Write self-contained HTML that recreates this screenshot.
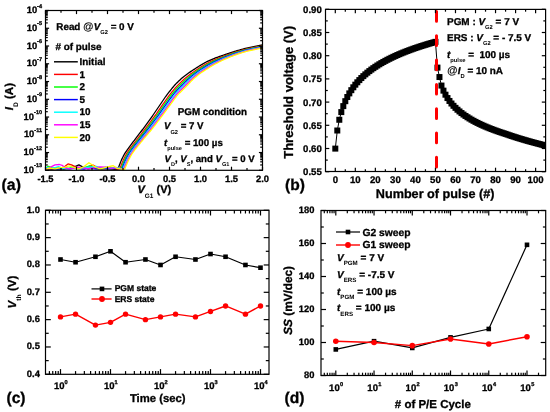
<!DOCTYPE html>
<html><head><meta charset="utf-8"><style>
html,body{margin:0;padding:0;background:#fff;}
svg{display:block;will-change:transform;}
text{font-family:"Liberation Sans", sans-serif;text-rendering:geometricPrecision;stroke:#000;stroke-width:0.3px;}
</style></head><body>
<svg width="550" height="412" viewBox="0 0 550 412">
<rect width="550" height="412" fill="#fff"/>
<clipPath id="ca"><rect x="45.5" y="10.5" width="217.0" height="159.8"/></clipPath><g clip-path="url(#ca)">
<polyline points="46.00,168.80 52.00,169.10 58.00,168.60 64.00,169.10 70.00,168.30 74.50,166.80 78.90,164.90 83.00,167.10 88.00,168.80 94.00,168.30 100.00,169.10 106.00,168.50 112.00,169.10 117.80,169.50 118.24,168.34 118.67,167.18 119.11,166.01 119.55,164.85 119.99,163.69 120.42,162.52 120.88,161.37 121.36,160.24 121.86,159.12 122.39,158.01 122.94,156.92 123.49,155.82 124.07,154.74 124.69,153.67 125.35,152.62 126.03,151.57 126.73,150.54 127.44,149.51 128.16,148.51 128.88,147.52 129.61,146.55 130.34,145.58 131.07,144.62 131.79,143.65 132.52,142.69 133.24,141.73 133.97,140.77 134.69,139.80 135.42,138.84 136.16,137.86 136.91,136.89 137.66,135.91 138.42,134.92 139.17,133.94 139.93,132.96 140.68,131.98 141.44,130.99 142.19,130.01 142.94,129.02 143.68,128.03 144.41,127.03 145.13,126.03 145.86,125.03 146.58,124.03 147.31,123.03 148.03,122.03 148.76,121.03 149.48,120.03 150.21,119.02 150.93,118.02 151.65,117.01 152.37,116.01 153.08,115.00 153.77,114.00 154.46,113.00 155.14,112.00 155.82,111.00 156.50,110.00 157.18,109.00 157.86,108.00 158.54,107.00 159.22,106.00 159.90,105.00 160.58,104.00 161.26,103.00 161.94,102.00 162.62,101.00 163.30,100.00 163.98,99.00 164.66,98.00 165.34,97.00 166.03,96.01 166.74,95.03 167.47,94.07 168.21,93.13 168.96,92.19 169.72,91.25 170.47,90.32 171.23,89.38 171.98,88.45 172.74,87.51 173.49,86.57 174.26,85.65 175.07,84.75 175.89,83.87 176.75,83.02 177.63,82.18 178.50,81.34 179.38,80.50 180.26,79.66 181.14,78.83 182.05,78.02 182.99,77.24 183.96,76.48 184.95,75.74 185.95,75.00 186.95,74.26 187.94,73.53 188.94,72.81 189.96,72.10 190.97,71.41 192.00,70.73 193.03,70.06 194.06,69.39 195.09,68.72 196.12,68.05 197.17,67.38 198.23,66.71 199.29,66.05 200.36,65.39 201.43,64.74 202.50,64.10 203.58,63.46 204.67,62.85 205.79,62.25 206.93,61.68 208.08,61.12 209.23,60.59 210.38,60.07 211.54,59.56 212.69,59.07 213.85,58.60 215.00,58.14 216.15,57.70 217.31,57.27 218.46,56.86 219.62,56.45 220.77,56.04 221.92,55.65 223.08,55.25 224.23,54.86 225.38,54.48 226.54,54.09 227.69,53.71 228.85,53.33 230.00,52.95 231.15,52.57 232.31,52.19 233.47,51.81 234.63,51.44 235.81,51.09 237.00,50.74 238.20,50.40 239.40,50.07 240.60,49.73 241.80,49.40 243.00,49.06 244.20,48.74 245.40,48.44 246.60,48.15 247.80,47.88 249.00,47.62 250.20,47.36 251.40,47.09 252.60,46.83 253.80,46.57 255.01,46.32 256.22,46.08 257.43,45.84 258.64,45.61 259.86,45.39 261.07,45.16 262.29,44.93 263.50,44.70 263.50,44.70" fill="none" stroke="#000" stroke-width="1.3" stroke-linejoin="round" />
<polyline points="46.00,168.30 51.00,168.80 56.00,167.80 61.00,168.50 65.00,166.30 68.00,163.90 71.50,164.80 75.30,166.60 80.00,168.10 86.00,167.50 93.00,165.10 98.00,167.80 104.00,168.60 110.00,167.80 116.00,168.80 119.54,169.50 119.87,168.64 120.19,167.78 120.64,166.63 121.09,165.48 121.54,164.33 121.98,163.18 122.44,162.04 122.92,160.90 123.42,159.79 123.91,158.78 124.45,157.68 125.00,156.58 125.58,155.50 126.19,154.42 126.77,153.45 127.44,152.40 128.13,151.36 128.77,150.43 129.47,149.43 130.20,148.44 130.92,147.47 131.59,146.59 132.32,145.63 133.05,144.67 133.78,143.71 134.52,142.76 135.26,141.80 135.99,140.85 136.73,139.89 137.48,138.92 138.23,137.96 138.99,136.99 139.75,136.02 140.51,135.05 141.27,134.08 142.03,133.12 142.79,132.15 143.54,131.18 144.30,130.21 145.05,129.24 145.79,128.26 146.59,127.20 147.33,126.22 148.06,125.24 148.79,124.26 149.59,123.19 150.31,122.20 151.04,121.21 151.77,120.21 152.49,119.22 153.22,118.23 153.94,117.24 154.65,116.24 155.36,115.25 156.06,114.27 156.75,113.28 157.51,112.20 158.20,111.21 158.89,110.21 159.58,109.21 160.27,108.21 160.96,107.21 161.65,106.21 162.34,105.21 163.03,104.21 163.66,103.30 164.35,102.30 165.04,101.30 165.73,100.31 166.43,99.32 167.12,98.33 167.82,97.34 168.53,96.37 169.26,95.40 170.00,94.45 170.74,93.51 171.43,92.65 172.18,91.71 172.88,90.86 173.65,89.93 174.35,89.09 175.06,88.25 175.86,87.35 176.68,86.46 177.52,85.59 178.38,84.74 179.25,83.90 180.20,82.98 181.07,82.13 181.94,81.28 182.82,80.43 183.71,79.60 184.63,78.79 185.56,77.99 186.51,77.21 187.47,76.43 188.36,75.73 189.33,74.97 190.23,74.29 191.22,73.56 192.14,72.91 193.15,72.20 194.17,71.50 195.18,70.80 196.20,70.10 197.15,69.48 198.19,68.79 199.15,68.17 200.22,67.50 201.29,66.83 202.36,66.17 203.43,65.51 204.50,64.86 205.59,64.23 206.61,63.67 207.72,63.07 208.86,62.49 209.99,61.93 211.12,61.38 212.25,60.85 213.39,60.34 214.52,59.83 215.65,59.35 216.78,58.88 217.92,58.42 219.07,57.97 220.12,57.57 221.27,57.13 222.42,56.69 223.57,56.27 224.62,55.89 225.77,55.48 226.91,55.08 228.05,54.68 229.19,54.28 230.34,53.88 231.48,53.48 232.62,53.08 233.77,52.69 234.93,52.31 236.10,51.94 237.28,51.58 238.47,51.24 239.66,50.89 240.84,50.54 242.03,50.19 243.22,49.85 244.41,49.53 245.61,49.22 246.81,48.93 248.01,48.66 249.21,48.39 250.41,48.13 251.61,47.86 252.81,47.59 254.01,47.34 255.11,47.11 256.32,46.87 257.53,46.64 258.75,46.41 259.96,46.19 261.18,45.96 262.39,45.74 263.50,45.53 263.50,45.53" fill="none" stroke="#f00" stroke-width="1.3" stroke-linejoin="round" />
<polyline points="46.00,167.80 48.40,166.30 52.00,167.90 57.00,168.80 63.00,167.50 68.00,168.50 73.00,167.30 78.00,168.60 84.00,167.80 89.50,165.80 94.00,167.50 100.00,168.60 106.00,167.30 112.00,168.50 118.00,167.80 120.61,169.50 120.87,168.83 121.12,168.15 121.58,167.01 122.03,165.87 122.49,164.72 122.94,163.58 123.41,162.44 123.89,161.32 124.39,160.20 124.84,159.25 125.37,158.15 125.92,157.05 126.50,155.96 127.11,154.88 127.65,153.97 128.31,152.91 128.98,151.87 129.58,151.00 130.29,149.99 131.00,149.01 131.73,148.04 132.35,147.21 133.09,146.25 133.82,145.29 134.56,144.34 135.31,143.39 136.05,142.44 136.79,141.49 137.54,140.53 138.29,139.58 139.05,138.62 139.81,137.66 140.57,136.69 141.33,135.73 142.09,134.77 142.85,133.82 143.62,132.86 144.38,131.90 145.14,130.95 145.89,129.98 146.64,129.02 147.49,127.93 148.24,126.96 148.97,125.99 149.71,125.01 150.54,123.90 151.27,122.91 152.00,121.93 152.73,120.95 153.45,119.96 154.18,118.98 154.90,117.99 155.62,117.01 156.33,116.03 157.04,115.04 157.74,114.06 158.55,112.94 159.24,111.95 159.94,110.96 160.64,109.96 161.34,108.96 162.03,107.96 162.73,106.96 163.43,105.96 164.12,104.96 164.72,104.10 165.42,103.10 166.12,102.11 166.81,101.12 167.51,100.13 168.21,99.14 168.92,98.16 169.63,97.19 170.36,96.22 171.10,95.27 171.84,94.32 172.48,93.51 173.24,92.57 173.89,91.77 174.67,90.85 175.35,90.06 176.03,89.28 176.84,88.39 177.67,87.51 178.52,86.65 179.38,85.80 180.25,84.95 181.24,83.99 182.11,83.13 182.98,82.28 183.85,81.42 184.73,80.57 185.63,79.74 186.54,78.92 187.47,78.12 188.41,77.31 189.23,76.64 190.18,75.85 191.02,75.20 192.00,74.45 192.86,73.83 193.86,73.11 194.87,72.39 195.87,71.67 196.89,70.96 197.77,70.36 198.82,69.66 199.72,69.07 200.79,68.39 201.86,67.71 202.93,67.04 204.00,66.38 205.08,65.72 206.16,65.07 207.11,64.54 208.22,63.93 209.33,63.34 210.45,62.76 211.57,62.20 212.69,61.65 213.81,61.11 214.93,60.60 216.05,60.10 217.17,59.61 218.30,59.12 219.44,58.65 220.43,58.26 221.58,57.79 222.73,57.34 223.87,56.89 224.86,56.53 226.00,56.10 227.14,55.69 228.27,55.27 229.41,54.86 230.54,54.45 231.68,54.04 232.82,53.63 233.96,53.23 235.11,52.84 236.28,52.47 237.45,52.10 238.63,51.75 239.81,51.39 240.99,51.04 242.17,50.68 243.36,50.34 244.55,50.01 245.74,49.70 246.94,49.41 248.14,49.14 249.34,48.87 250.54,48.60 251.74,48.33 252.94,48.06 254.14,47.81 255.18,47.59 256.39,47.35 257.60,47.13 258.81,46.90 260.03,46.68 261.24,46.46 262.46,46.24 263.50,46.04 263.50,46.04" fill="none" stroke="#0f0" stroke-width="1.3" stroke-linejoin="round" />
<polyline points="46.00,168.80 52.00,168.30 58.00,169.10 64.00,168.10 70.00,168.90 76.00,167.80 79.00,168.60 84.00,169.10 90.00,167.90 96.00,168.80 102.00,167.90 108.00,168.80 114.00,168.10 120.00,168.80 121.69,169.50 121.87,169.01 122.05,168.52 122.52,167.39 122.98,166.25 123.44,165.12 123.90,163.98 124.37,162.85 124.85,161.73 125.35,160.61 125.77,159.72 126.30,158.61 126.85,157.52 127.43,156.43 128.03,155.34 128.53,154.48 129.17,153.42 129.84,152.38 130.39,151.56 131.10,150.56 131.81,149.58 132.54,148.61 133.12,147.83 133.86,146.87 134.60,145.92 135.34,144.97 136.09,144.02 136.84,143.08 137.59,142.13 138.35,141.18 139.10,140.23 139.86,139.28 140.62,138.32 141.38,137.37 142.15,136.42 142.91,135.47 143.68,134.52 144.45,133.57 145.21,132.63 145.97,131.68 146.73,130.73 147.49,129.78 148.39,128.65 149.14,127.69 149.89,126.73 150.62,125.76 151.50,124.61 152.23,123.63 152.96,122.66 153.69,121.68 154.42,120.70 155.14,119.73 155.87,118.75 156.59,117.77 157.31,116.80 158.02,115.82 158.73,114.85 159.58,113.68 160.29,112.70 161.00,111.70 161.70,110.71 162.40,109.71 163.11,108.71 163.81,107.71 164.51,106.71 165.22,105.71 165.78,104.90 166.48,103.90 167.19,102.91 167.89,101.92 168.60,100.94 169.31,99.96 170.02,98.98 170.74,98.01 171.46,97.04 172.19,96.08 172.93,95.13 173.53,94.36 174.29,93.43 174.91,92.68 175.70,91.77 176.34,91.04 176.99,90.31 177.82,89.43 178.66,88.56 179.51,87.70 180.38,86.85 181.25,86.01 182.29,84.99 183.15,84.14 184.02,83.27 184.88,82.41 185.75,81.55 186.63,80.69 187.53,79.85 188.43,79.02 189.34,78.19 190.10,77.54 191.03,76.74 191.81,76.11 192.78,75.34 193.58,74.75 194.57,74.01 195.57,73.27 196.57,72.53 197.58,71.81 198.40,71.24 199.44,70.53 200.29,69.97 201.36,69.28 202.43,68.59 203.50,67.92 204.57,67.24 205.65,66.58 206.73,65.92 207.61,65.41 208.71,64.79 209.81,64.18 210.92,63.59 212.03,63.01 213.13,62.44 214.24,61.89 215.34,61.36 216.45,60.84 217.56,60.33 218.68,59.83 219.81,59.34 220.73,58.95 221.88,58.46 223.03,57.98 224.18,57.52 225.10,57.16 226.23,56.72 227.36,56.29 228.49,55.87 229.62,55.44 230.75,55.02 231.88,54.60 233.01,54.17 234.15,53.77 235.30,53.37 236.46,52.99 237.63,52.62 238.80,52.26 239.97,51.90 241.14,51.54 242.32,51.17 243.49,50.82 244.68,50.49 245.87,50.18 247.06,49.89 248.26,49.62 249.46,49.35 250.66,49.08 251.86,48.80 253.06,48.54 254.27,48.28 255.24,48.08 256.45,47.84 257.66,47.62 258.88,47.40 260.09,47.18 261.31,46.96 262.52,46.73 263.50,46.56 263.50,46.56" fill="none" stroke="#00f" stroke-width="1.3" stroke-linejoin="round" />
<polyline points="46.00,167.50 50.00,168.30 55.00,167.60 58.50,166.50 62.00,168.10 67.00,168.80 72.00,167.90 77.00,167.30 82.00,168.10 87.00,167.50 92.00,166.80 97.00,166.50 101.00,167.80 106.00,167.30 111.00,168.10 116.00,167.50 121.00,168.60 122.69,169.50 122.81,169.19 122.93,168.87 123.40,167.74 123.86,166.62 124.33,165.49 124.80,164.36 125.27,163.23 125.75,162.11 126.25,160.99 126.64,160.16 127.17,159.05 127.72,157.96 128.30,156.86 128.89,155.78 129.35,154.96 129.98,153.90 130.64,152.86 131.16,152.09 131.86,151.09 132.57,150.11 133.29,149.14 133.84,148.41 134.58,147.45 135.32,146.50 136.08,145.56 136.83,144.61 137.59,143.67 138.34,142.73 139.10,141.79 139.86,140.84 140.62,139.89 141.39,138.95 142.15,138.00 142.92,137.06 143.69,136.12 144.45,135.18 145.22,134.24 145.99,133.30 146.76,132.37 147.52,131.43 148.29,130.49 149.23,129.32 149.99,128.38 150.74,127.43 151.48,126.47 152.40,125.27 153.13,124.30 153.86,123.33 154.59,122.37 155.32,121.40 156.05,120.43 156.78,119.46 157.50,118.49 158.22,117.52 158.94,116.55 159.66,115.59 160.56,114.38 161.27,113.39 161.98,112.40 162.69,111.41 163.40,110.41 164.11,109.41 164.82,108.41 165.53,107.41 166.24,106.41 166.77,105.65 167.48,104.65 168.19,103.66 168.91,102.68 169.62,101.70 170.33,100.72 171.05,99.75 171.77,98.78 172.49,97.81 173.23,96.85 173.96,95.89 174.52,95.17 175.28,94.23 175.86,93.53 176.66,92.62 177.27,91.95 177.90,91.28 178.74,90.41 179.59,89.55 180.45,88.69 181.32,87.84 182.19,87.00 183.27,85.94 184.13,85.08 184.99,84.21 185.84,83.33 186.71,82.46 187.57,81.59 188.45,80.73 189.33,79.87 190.22,79.02 190.91,78.39 191.83,77.57 192.55,76.97 193.51,76.18 194.25,75.61 195.24,74.86 196.23,74.10 197.22,73.35 198.22,72.61 198.99,72.06 200.03,71.34 200.83,70.81 201.89,70.11 202.96,69.42 204.04,68.74 205.11,68.05 206.18,67.38 207.26,66.71 208.08,66.23 209.17,65.59 210.26,64.97 211.36,64.36 212.45,63.77 213.54,63.19 214.64,62.62 215.73,62.08 216.83,61.54 217.92,61.02 219.04,60.49 220.16,59.98 221.02,59.60 222.17,59.08 223.32,58.58 224.46,58.10 225.33,57.75 226.45,57.30 227.58,56.86 228.70,56.43 229.82,55.99 230.95,55.56 232.07,55.12 233.19,54.69 234.33,54.27 235.47,53.87 236.62,53.48 237.79,53.11 238.95,52.74 240.12,52.37 241.29,52.00 242.45,51.63 243.62,51.28 244.80,50.94 245.99,50.63 247.18,50.34 248.38,50.07 249.58,49.79 250.78,49.52 251.98,49.25 253.18,48.98 254.39,48.72 255.30,48.53 256.51,48.30 257.72,48.07 258.94,47.86 260.15,47.64 261.37,47.42 262.58,47.20 263.50,47.04 263.50,47.04" fill="none" stroke="#0ff" stroke-width="1.3" stroke-linejoin="round" />
<polyline points="46.00,168.80 49.00,168.10 52.00,166.30 55.00,164.90 59.50,164.50 62.20,165.30 65.00,167.80 69.00,168.80 74.00,168.10 79.00,167.10 83.00,167.90 88.00,168.60 94.00,167.80 100.00,166.90 106.00,167.20 111.00,168.30 116.00,167.60 120.00,168.80 123.56,169.50 123.62,169.34 123.68,169.17 124.16,168.05 124.63,166.93 125.11,165.81 125.58,164.68 126.06,163.56 126.54,162.44 127.03,161.33 127.39,160.54 127.92,159.43 128.47,158.33 129.05,157.24 129.64,156.15 130.06,155.38 130.69,154.31 131.34,153.27 131.82,152.55 132.52,151.55 133.23,150.58 133.95,149.60 134.47,148.92 135.20,147.96 135.95,147.01 136.71,146.07 137.47,145.13 138.23,144.19 138.99,143.25 139.76,142.31 140.52,141.37 141.28,140.43 142.05,139.49 142.82,138.55 143.59,137.61 144.35,136.68 145.13,135.75 145.90,134.82 146.67,133.89 147.44,132.96 148.21,132.03 148.98,131.10 149.97,129.91 150.73,128.97 151.48,128.03 152.23,127.08 153.17,125.85 153.90,124.89 154.64,123.92 155.37,122.96 156.10,122.00 156.83,121.04 157.56,120.07 158.29,119.11 159.02,118.15 159.74,117.19 160.47,116.22 161.40,114.98 162.12,114.00 162.84,113.01 163.55,112.01 164.27,111.01 164.98,110.01 165.70,109.01 166.41,108.01 167.13,107.01 167.63,106.30 168.35,105.30 169.06,104.31 169.78,103.33 170.50,102.36 171.22,101.38 171.94,100.41 172.66,99.44 173.39,98.48 174.12,97.51 174.85,96.55 175.37,95.87 176.13,94.93 176.69,94.27 177.49,93.37 178.08,92.74 178.68,92.12 179.54,91.26 180.40,90.40 181.26,89.55 182.13,88.70 183.00,87.86 184.11,86.76 184.97,85.89 185.83,85.02 186.68,84.14 187.53,83.25 188.39,82.36 189.25,81.48 190.11,80.61 190.98,79.73 191.62,79.13 192.52,78.29 193.19,77.71 194.14,76.91 194.84,76.36 195.82,75.59 196.80,74.82 197.78,74.05 198.78,73.30 199.50,72.77 200.54,72.05 201.29,71.54 202.36,70.84 203.43,70.14 204.50,69.45 205.57,68.76 206.64,68.08 207.72,67.40 208.49,66.93 209.57,66.28 210.65,65.65 211.74,65.03 212.82,64.43 213.90,63.83 214.98,63.26 216.07,62.69 217.15,62.15 218.24,61.61 219.34,61.07 220.46,60.53 221.27,60.16 222.42,59.62 223.57,59.11 224.71,58.61 225.52,58.27 226.65,57.80 227.76,57.35 228.88,56.91 230.00,56.46 231.11,56.02 232.23,55.57 233.35,55.13 234.48,54.71 235.62,54.30 236.77,53.91 237.93,53.53 239.09,53.16 240.25,52.78 241.41,52.41 242.57,52.03 243.73,51.67 244.91,51.33 246.09,51.02 247.29,50.73 248.49,50.45 249.69,50.18 250.89,49.91 252.09,49.63 253.29,49.36 254.49,49.10 255.35,48.93 256.56,48.69 257.78,48.47 258.99,48.26 260.21,48.04 261.42,47.82 262.63,47.61 263.50,47.45 263.50,47.45" fill="none" stroke="#f0f" stroke-width="1.3" stroke-linejoin="round" />
<polyline points="46.00,169.10 50.00,168.10 55.00,168.90 60.00,167.80 65.00,167.10 69.50,165.80 74.00,167.50 79.00,168.80 84.00,166.50 88.90,162.70 92.00,164.80 96.00,167.50 100.00,168.80 105.00,167.60 109.50,166.50 113.30,165.70 117.00,168.30 120.00,168.90 124.50,169.50 124.50,169.50 124.50,169.50 124.98,168.38 125.46,167.27 125.94,166.15 126.42,165.04 126.90,163.92 127.38,162.80 127.87,161.69 128.21,160.95 128.73,159.84 129.28,158.74 129.86,157.65 130.44,156.55 130.83,155.83 131.45,154.76 132.09,153.72 132.53,153.04 133.23,152.05 133.94,151.08 134.65,150.10 135.14,149.46 135.88,148.50 136.63,147.56 137.39,146.62 138.16,145.68 138.93,144.75 139.69,143.81 140.46,142.88 141.23,141.94 142.00,141.01 142.76,140.07 143.53,139.14 144.30,138.21 145.08,137.28 145.85,136.36 146.62,135.44 147.40,134.52 148.17,133.60 148.95,132.68 149.72,131.76 150.75,130.54 151.52,129.61 152.28,128.68 153.03,127.74 154.01,126.47 154.74,125.51 155.47,124.56 156.21,123.60 156.94,122.65 157.67,121.69 158.40,120.73 159.14,119.78 159.87,118.82 160.60,117.87 161.33,116.91 162.31,115.63 163.04,114.65 163.76,113.66 164.48,112.67 165.20,111.67 165.92,110.67 166.64,109.67 167.36,108.67 168.08,107.67 168.56,107.00 169.28,106.00 170.00,105.02 170.73,104.04 171.45,103.06 172.18,102.10 172.90,101.13 173.63,100.16 174.35,99.19 175.08,98.23 175.81,97.26 176.29,96.62 177.05,95.68 177.58,95.06 178.39,94.17 178.95,93.59 179.53,93.02 180.40,92.17 181.27,91.32 182.13,90.48 183.00,89.63 183.87,88.78 185.03,87.64 185.89,86.77 186.74,85.89 187.58,85.00 188.43,84.10 189.27,83.20 190.11,82.30 190.95,81.40 191.80,80.50 192.38,79.92 193.27,79.06 193.88,78.51 194.82,77.69 195.47,77.17 196.44,76.38 197.41,75.60 198.38,74.81 199.38,74.04 200.05,73.54 201.09,72.80 201.79,72.32 202.86,71.61 203.93,70.91 205.00,70.21 206.07,69.52 207.14,68.83 208.21,68.14 208.93,67.70 210.00,67.03 211.07,66.39 212.14,65.76 213.21,65.14 214.29,64.53 215.36,63.94 216.43,63.36 217.50,62.80 218.58,62.24 219.67,61.69 220.79,61.13 221.54,60.76 222.69,60.21 223.84,59.67 224.98,59.15 225.73,58.82 226.85,58.34 227.96,57.89 229.07,57.43 230.19,56.97 231.30,56.52 232.41,56.06 233.52,55.61 234.65,55.18 235.78,54.77 236.92,54.37 238.08,53.98 239.23,53.60 240.38,53.22 241.54,52.84 242.69,52.46 243.85,52.10 245.02,51.76 246.21,51.44 247.40,51.15 248.60,50.87 249.80,50.60 251.00,50.32 252.20,50.04 253.40,49.77 254.61,49.52 255.41,49.35 256.62,49.12 257.83,48.90 259.05,48.69 260.26,48.47 261.48,48.26 262.69,48.04 263.50,47.90 263.50,47.90" fill="none" stroke="#ff0" stroke-width="1.3" stroke-linejoin="round" />
</g>
<rect x="45.50" y="10.50" width="217.00" height="159.80" fill="none" stroke="#000" stroke-width="1.2"/>
<line x1="45.50" y1="170.30" x2="45.50" y2="166.70" stroke="#000" stroke-width="1.2" />
<line x1="45.50" y1="10.50" x2="45.50" y2="14.10" stroke="#000" stroke-width="1.2" />
<line x1="61.00" y1="170.30" x2="61.00" y2="168.00" stroke="#000" stroke-width="1.2" />
<line x1="61.00" y1="10.50" x2="61.00" y2="12.80" stroke="#000" stroke-width="1.2" />
<line x1="76.50" y1="170.30" x2="76.50" y2="166.70" stroke="#000" stroke-width="1.2" />
<line x1="76.50" y1="10.50" x2="76.50" y2="14.10" stroke="#000" stroke-width="1.2" />
<line x1="92.00" y1="170.30" x2="92.00" y2="168.00" stroke="#000" stroke-width="1.2" />
<line x1="92.00" y1="10.50" x2="92.00" y2="12.80" stroke="#000" stroke-width="1.2" />
<line x1="107.50" y1="170.30" x2="107.50" y2="166.70" stroke="#000" stroke-width="1.2" />
<line x1="107.50" y1="10.50" x2="107.50" y2="14.10" stroke="#000" stroke-width="1.2" />
<line x1="123.00" y1="170.30" x2="123.00" y2="168.00" stroke="#000" stroke-width="1.2" />
<line x1="123.00" y1="10.50" x2="123.00" y2="12.80" stroke="#000" stroke-width="1.2" />
<line x1="138.50" y1="170.30" x2="138.50" y2="166.70" stroke="#000" stroke-width="1.2" />
<line x1="138.50" y1="10.50" x2="138.50" y2="14.10" stroke="#000" stroke-width="1.2" />
<line x1="154.00" y1="170.30" x2="154.00" y2="168.00" stroke="#000" stroke-width="1.2" />
<line x1="154.00" y1="10.50" x2="154.00" y2="12.80" stroke="#000" stroke-width="1.2" />
<line x1="169.50" y1="170.30" x2="169.50" y2="166.70" stroke="#000" stroke-width="1.2" />
<line x1="169.50" y1="10.50" x2="169.50" y2="14.10" stroke="#000" stroke-width="1.2" />
<line x1="185.00" y1="170.30" x2="185.00" y2="168.00" stroke="#000" stroke-width="1.2" />
<line x1="185.00" y1="10.50" x2="185.00" y2="12.80" stroke="#000" stroke-width="1.2" />
<line x1="200.50" y1="170.30" x2="200.50" y2="166.70" stroke="#000" stroke-width="1.2" />
<line x1="200.50" y1="10.50" x2="200.50" y2="14.10" stroke="#000" stroke-width="1.2" />
<line x1="216.00" y1="170.30" x2="216.00" y2="168.00" stroke="#000" stroke-width="1.2" />
<line x1="216.00" y1="10.50" x2="216.00" y2="12.80" stroke="#000" stroke-width="1.2" />
<line x1="231.50" y1="170.30" x2="231.50" y2="166.70" stroke="#000" stroke-width="1.2" />
<line x1="231.50" y1="10.50" x2="231.50" y2="14.10" stroke="#000" stroke-width="1.2" />
<line x1="247.00" y1="170.30" x2="247.00" y2="168.00" stroke="#000" stroke-width="1.2" />
<line x1="247.00" y1="10.50" x2="247.00" y2="12.80" stroke="#000" stroke-width="1.2" />
<line x1="262.50" y1="170.30" x2="262.50" y2="166.70" stroke="#000" stroke-width="1.2" />
<line x1="262.50" y1="10.50" x2="262.50" y2="14.10" stroke="#000" stroke-width="1.2" />
<line x1="45.50" y1="170.30" x2="49.10" y2="170.30" stroke="#000" stroke-width="1.2" />
<line x1="262.50" y1="170.30" x2="258.90" y2="170.30" stroke="#000" stroke-width="1.2" />
<line x1="45.50" y1="164.96" x2="47.80" y2="164.96" stroke="#000" stroke-width="1.2" />
<line x1="262.50" y1="164.96" x2="260.20" y2="164.96" stroke="#000" stroke-width="1.2" />
<line x1="45.50" y1="161.83" x2="47.80" y2="161.83" stroke="#000" stroke-width="1.2" />
<line x1="262.50" y1="161.83" x2="260.20" y2="161.83" stroke="#000" stroke-width="1.2" />
<line x1="45.50" y1="159.61" x2="47.80" y2="159.61" stroke="#000" stroke-width="1.2" />
<line x1="262.50" y1="159.61" x2="260.20" y2="159.61" stroke="#000" stroke-width="1.2" />
<line x1="45.50" y1="157.89" x2="47.80" y2="157.89" stroke="#000" stroke-width="1.2" />
<line x1="262.50" y1="157.89" x2="260.20" y2="157.89" stroke="#000" stroke-width="1.2" />
<line x1="45.50" y1="156.48" x2="47.80" y2="156.48" stroke="#000" stroke-width="1.2" />
<line x1="262.50" y1="156.48" x2="260.20" y2="156.48" stroke="#000" stroke-width="1.2" />
<line x1="45.50" y1="155.29" x2="47.80" y2="155.29" stroke="#000" stroke-width="1.2" />
<line x1="262.50" y1="155.29" x2="260.20" y2="155.29" stroke="#000" stroke-width="1.2" />
<line x1="45.50" y1="154.27" x2="47.80" y2="154.27" stroke="#000" stroke-width="1.2" />
<line x1="262.50" y1="154.27" x2="260.20" y2="154.27" stroke="#000" stroke-width="1.2" />
<line x1="45.50" y1="153.36" x2="47.80" y2="153.36" stroke="#000" stroke-width="1.2" />
<line x1="262.50" y1="153.36" x2="260.20" y2="153.36" stroke="#000" stroke-width="1.2" />
<line x1="45.50" y1="152.54" x2="49.10" y2="152.54" stroke="#000" stroke-width="1.2" />
<line x1="262.50" y1="152.54" x2="258.90" y2="152.54" stroke="#000" stroke-width="1.2" />
<line x1="45.50" y1="147.20" x2="47.80" y2="147.20" stroke="#000" stroke-width="1.2" />
<line x1="262.50" y1="147.20" x2="260.20" y2="147.20" stroke="#000" stroke-width="1.2" />
<line x1="45.50" y1="144.07" x2="47.80" y2="144.07" stroke="#000" stroke-width="1.2" />
<line x1="262.50" y1="144.07" x2="260.20" y2="144.07" stroke="#000" stroke-width="1.2" />
<line x1="45.50" y1="141.85" x2="47.80" y2="141.85" stroke="#000" stroke-width="1.2" />
<line x1="262.50" y1="141.85" x2="260.20" y2="141.85" stroke="#000" stroke-width="1.2" />
<line x1="45.50" y1="140.13" x2="47.80" y2="140.13" stroke="#000" stroke-width="1.2" />
<line x1="262.50" y1="140.13" x2="260.20" y2="140.13" stroke="#000" stroke-width="1.2" />
<line x1="45.50" y1="138.73" x2="47.80" y2="138.73" stroke="#000" stroke-width="1.2" />
<line x1="262.50" y1="138.73" x2="260.20" y2="138.73" stroke="#000" stroke-width="1.2" />
<line x1="45.50" y1="137.54" x2="47.80" y2="137.54" stroke="#000" stroke-width="1.2" />
<line x1="262.50" y1="137.54" x2="260.20" y2="137.54" stroke="#000" stroke-width="1.2" />
<line x1="45.50" y1="136.51" x2="47.80" y2="136.51" stroke="#000" stroke-width="1.2" />
<line x1="262.50" y1="136.51" x2="260.20" y2="136.51" stroke="#000" stroke-width="1.2" />
<line x1="45.50" y1="135.60" x2="47.80" y2="135.60" stroke="#000" stroke-width="1.2" />
<line x1="262.50" y1="135.60" x2="260.20" y2="135.60" stroke="#000" stroke-width="1.2" />
<line x1="45.50" y1="134.79" x2="49.10" y2="134.79" stroke="#000" stroke-width="1.2" />
<line x1="262.50" y1="134.79" x2="258.90" y2="134.79" stroke="#000" stroke-width="1.2" />
<line x1="45.50" y1="129.44" x2="47.80" y2="129.44" stroke="#000" stroke-width="1.2" />
<line x1="262.50" y1="129.44" x2="260.20" y2="129.44" stroke="#000" stroke-width="1.2" />
<line x1="45.50" y1="126.32" x2="47.80" y2="126.32" stroke="#000" stroke-width="1.2" />
<line x1="262.50" y1="126.32" x2="260.20" y2="126.32" stroke="#000" stroke-width="1.2" />
<line x1="45.50" y1="124.10" x2="47.80" y2="124.10" stroke="#000" stroke-width="1.2" />
<line x1="262.50" y1="124.10" x2="260.20" y2="124.10" stroke="#000" stroke-width="1.2" />
<line x1="45.50" y1="122.38" x2="47.80" y2="122.38" stroke="#000" stroke-width="1.2" />
<line x1="262.50" y1="122.38" x2="260.20" y2="122.38" stroke="#000" stroke-width="1.2" />
<line x1="45.50" y1="120.97" x2="47.80" y2="120.97" stroke="#000" stroke-width="1.2" />
<line x1="262.50" y1="120.97" x2="260.20" y2="120.97" stroke="#000" stroke-width="1.2" />
<line x1="45.50" y1="119.78" x2="47.80" y2="119.78" stroke="#000" stroke-width="1.2" />
<line x1="262.50" y1="119.78" x2="260.20" y2="119.78" stroke="#000" stroke-width="1.2" />
<line x1="45.50" y1="118.75" x2="47.80" y2="118.75" stroke="#000" stroke-width="1.2" />
<line x1="262.50" y1="118.75" x2="260.20" y2="118.75" stroke="#000" stroke-width="1.2" />
<line x1="45.50" y1="117.85" x2="47.80" y2="117.85" stroke="#000" stroke-width="1.2" />
<line x1="262.50" y1="117.85" x2="260.20" y2="117.85" stroke="#000" stroke-width="1.2" />
<line x1="45.50" y1="117.03" x2="49.10" y2="117.03" stroke="#000" stroke-width="1.2" />
<line x1="262.50" y1="117.03" x2="258.90" y2="117.03" stroke="#000" stroke-width="1.2" />
<line x1="45.50" y1="111.69" x2="47.80" y2="111.69" stroke="#000" stroke-width="1.2" />
<line x1="262.50" y1="111.69" x2="260.20" y2="111.69" stroke="#000" stroke-width="1.2" />
<line x1="45.50" y1="108.56" x2="47.80" y2="108.56" stroke="#000" stroke-width="1.2" />
<line x1="262.50" y1="108.56" x2="260.20" y2="108.56" stroke="#000" stroke-width="1.2" />
<line x1="45.50" y1="106.34" x2="47.80" y2="106.34" stroke="#000" stroke-width="1.2" />
<line x1="262.50" y1="106.34" x2="260.20" y2="106.34" stroke="#000" stroke-width="1.2" />
<line x1="45.50" y1="104.62" x2="47.80" y2="104.62" stroke="#000" stroke-width="1.2" />
<line x1="262.50" y1="104.62" x2="260.20" y2="104.62" stroke="#000" stroke-width="1.2" />
<line x1="45.50" y1="103.22" x2="47.80" y2="103.22" stroke="#000" stroke-width="1.2" />
<line x1="262.50" y1="103.22" x2="260.20" y2="103.22" stroke="#000" stroke-width="1.2" />
<line x1="45.50" y1="102.03" x2="47.80" y2="102.03" stroke="#000" stroke-width="1.2" />
<line x1="262.50" y1="102.03" x2="260.20" y2="102.03" stroke="#000" stroke-width="1.2" />
<line x1="45.50" y1="101.00" x2="47.80" y2="101.00" stroke="#000" stroke-width="1.2" />
<line x1="262.50" y1="101.00" x2="260.20" y2="101.00" stroke="#000" stroke-width="1.2" />
<line x1="45.50" y1="100.09" x2="47.80" y2="100.09" stroke="#000" stroke-width="1.2" />
<line x1="262.50" y1="100.09" x2="260.20" y2="100.09" stroke="#000" stroke-width="1.2" />
<line x1="45.50" y1="99.28" x2="49.10" y2="99.28" stroke="#000" stroke-width="1.2" />
<line x1="262.50" y1="99.28" x2="258.90" y2="99.28" stroke="#000" stroke-width="1.2" />
<line x1="45.50" y1="93.93" x2="47.80" y2="93.93" stroke="#000" stroke-width="1.2" />
<line x1="262.50" y1="93.93" x2="260.20" y2="93.93" stroke="#000" stroke-width="1.2" />
<line x1="45.50" y1="90.81" x2="47.80" y2="90.81" stroke="#000" stroke-width="1.2" />
<line x1="262.50" y1="90.81" x2="260.20" y2="90.81" stroke="#000" stroke-width="1.2" />
<line x1="45.50" y1="88.59" x2="47.80" y2="88.59" stroke="#000" stroke-width="1.2" />
<line x1="262.50" y1="88.59" x2="260.20" y2="88.59" stroke="#000" stroke-width="1.2" />
<line x1="45.50" y1="86.87" x2="47.80" y2="86.87" stroke="#000" stroke-width="1.2" />
<line x1="262.50" y1="86.87" x2="260.20" y2="86.87" stroke="#000" stroke-width="1.2" />
<line x1="45.50" y1="85.46" x2="47.80" y2="85.46" stroke="#000" stroke-width="1.2" />
<line x1="262.50" y1="85.46" x2="260.20" y2="85.46" stroke="#000" stroke-width="1.2" />
<line x1="45.50" y1="84.27" x2="47.80" y2="84.27" stroke="#000" stroke-width="1.2" />
<line x1="262.50" y1="84.27" x2="260.20" y2="84.27" stroke="#000" stroke-width="1.2" />
<line x1="45.50" y1="83.24" x2="47.80" y2="83.24" stroke="#000" stroke-width="1.2" />
<line x1="262.50" y1="83.24" x2="260.20" y2="83.24" stroke="#000" stroke-width="1.2" />
<line x1="45.50" y1="82.33" x2="47.80" y2="82.33" stroke="#000" stroke-width="1.2" />
<line x1="262.50" y1="82.33" x2="260.20" y2="82.33" stroke="#000" stroke-width="1.2" />
<line x1="45.50" y1="81.52" x2="49.10" y2="81.52" stroke="#000" stroke-width="1.2" />
<line x1="262.50" y1="81.52" x2="258.90" y2="81.52" stroke="#000" stroke-width="1.2" />
<line x1="45.50" y1="76.18" x2="47.80" y2="76.18" stroke="#000" stroke-width="1.2" />
<line x1="262.50" y1="76.18" x2="260.20" y2="76.18" stroke="#000" stroke-width="1.2" />
<line x1="45.50" y1="73.05" x2="47.80" y2="73.05" stroke="#000" stroke-width="1.2" />
<line x1="262.50" y1="73.05" x2="260.20" y2="73.05" stroke="#000" stroke-width="1.2" />
<line x1="45.50" y1="70.83" x2="47.80" y2="70.83" stroke="#000" stroke-width="1.2" />
<line x1="262.50" y1="70.83" x2="260.20" y2="70.83" stroke="#000" stroke-width="1.2" />
<line x1="45.50" y1="69.11" x2="47.80" y2="69.11" stroke="#000" stroke-width="1.2" />
<line x1="262.50" y1="69.11" x2="260.20" y2="69.11" stroke="#000" stroke-width="1.2" />
<line x1="45.50" y1="67.71" x2="47.80" y2="67.71" stroke="#000" stroke-width="1.2" />
<line x1="262.50" y1="67.71" x2="260.20" y2="67.71" stroke="#000" stroke-width="1.2" />
<line x1="45.50" y1="66.52" x2="47.80" y2="66.52" stroke="#000" stroke-width="1.2" />
<line x1="262.50" y1="66.52" x2="260.20" y2="66.52" stroke="#000" stroke-width="1.2" />
<line x1="45.50" y1="65.49" x2="47.80" y2="65.49" stroke="#000" stroke-width="1.2" />
<line x1="262.50" y1="65.49" x2="260.20" y2="65.49" stroke="#000" stroke-width="1.2" />
<line x1="45.50" y1="64.58" x2="47.80" y2="64.58" stroke="#000" stroke-width="1.2" />
<line x1="262.50" y1="64.58" x2="260.20" y2="64.58" stroke="#000" stroke-width="1.2" />
<line x1="45.50" y1="63.77" x2="49.10" y2="63.77" stroke="#000" stroke-width="1.2" />
<line x1="262.50" y1="63.77" x2="258.90" y2="63.77" stroke="#000" stroke-width="1.2" />
<line x1="45.50" y1="58.42" x2="47.80" y2="58.42" stroke="#000" stroke-width="1.2" />
<line x1="262.50" y1="58.42" x2="260.20" y2="58.42" stroke="#000" stroke-width="1.2" />
<line x1="45.50" y1="55.30" x2="47.80" y2="55.30" stroke="#000" stroke-width="1.2" />
<line x1="262.50" y1="55.30" x2="260.20" y2="55.30" stroke="#000" stroke-width="1.2" />
<line x1="45.50" y1="53.08" x2="47.80" y2="53.08" stroke="#000" stroke-width="1.2" />
<line x1="262.50" y1="53.08" x2="260.20" y2="53.08" stroke="#000" stroke-width="1.2" />
<line x1="45.50" y1="51.36" x2="47.80" y2="51.36" stroke="#000" stroke-width="1.2" />
<line x1="262.50" y1="51.36" x2="260.20" y2="51.36" stroke="#000" stroke-width="1.2" />
<line x1="45.50" y1="49.95" x2="47.80" y2="49.95" stroke="#000" stroke-width="1.2" />
<line x1="262.50" y1="49.95" x2="260.20" y2="49.95" stroke="#000" stroke-width="1.2" />
<line x1="45.50" y1="48.76" x2="47.80" y2="48.76" stroke="#000" stroke-width="1.2" />
<line x1="262.50" y1="48.76" x2="260.20" y2="48.76" stroke="#000" stroke-width="1.2" />
<line x1="45.50" y1="47.73" x2="47.80" y2="47.73" stroke="#000" stroke-width="1.2" />
<line x1="262.50" y1="47.73" x2="260.20" y2="47.73" stroke="#000" stroke-width="1.2" />
<line x1="45.50" y1="46.82" x2="47.80" y2="46.82" stroke="#000" stroke-width="1.2" />
<line x1="262.50" y1="46.82" x2="260.20" y2="46.82" stroke="#000" stroke-width="1.2" />
<line x1="45.50" y1="46.01" x2="49.10" y2="46.01" stroke="#000" stroke-width="1.2" />
<line x1="262.50" y1="46.01" x2="258.90" y2="46.01" stroke="#000" stroke-width="1.2" />
<line x1="45.50" y1="40.67" x2="47.80" y2="40.67" stroke="#000" stroke-width="1.2" />
<line x1="262.50" y1="40.67" x2="260.20" y2="40.67" stroke="#000" stroke-width="1.2" />
<line x1="45.50" y1="37.54" x2="47.80" y2="37.54" stroke="#000" stroke-width="1.2" />
<line x1="262.50" y1="37.54" x2="260.20" y2="37.54" stroke="#000" stroke-width="1.2" />
<line x1="45.50" y1="35.32" x2="47.80" y2="35.32" stroke="#000" stroke-width="1.2" />
<line x1="262.50" y1="35.32" x2="260.20" y2="35.32" stroke="#000" stroke-width="1.2" />
<line x1="45.50" y1="33.60" x2="47.80" y2="33.60" stroke="#000" stroke-width="1.2" />
<line x1="262.50" y1="33.60" x2="260.20" y2="33.60" stroke="#000" stroke-width="1.2" />
<line x1="45.50" y1="32.19" x2="47.80" y2="32.19" stroke="#000" stroke-width="1.2" />
<line x1="262.50" y1="32.19" x2="260.20" y2="32.19" stroke="#000" stroke-width="1.2" />
<line x1="45.50" y1="31.01" x2="47.80" y2="31.01" stroke="#000" stroke-width="1.2" />
<line x1="262.50" y1="31.01" x2="260.20" y2="31.01" stroke="#000" stroke-width="1.2" />
<line x1="45.50" y1="29.98" x2="47.80" y2="29.98" stroke="#000" stroke-width="1.2" />
<line x1="262.50" y1="29.98" x2="260.20" y2="29.98" stroke="#000" stroke-width="1.2" />
<line x1="45.50" y1="29.07" x2="47.80" y2="29.07" stroke="#000" stroke-width="1.2" />
<line x1="262.50" y1="29.07" x2="260.20" y2="29.07" stroke="#000" stroke-width="1.2" />
<line x1="45.50" y1="28.26" x2="49.10" y2="28.26" stroke="#000" stroke-width="1.2" />
<line x1="262.50" y1="28.26" x2="258.90" y2="28.26" stroke="#000" stroke-width="1.2" />
<line x1="45.50" y1="22.91" x2="47.80" y2="22.91" stroke="#000" stroke-width="1.2" />
<line x1="262.50" y1="22.91" x2="260.20" y2="22.91" stroke="#000" stroke-width="1.2" />
<line x1="45.50" y1="19.78" x2="47.80" y2="19.78" stroke="#000" stroke-width="1.2" />
<line x1="262.50" y1="19.78" x2="260.20" y2="19.78" stroke="#000" stroke-width="1.2" />
<line x1="45.50" y1="17.57" x2="47.80" y2="17.57" stroke="#000" stroke-width="1.2" />
<line x1="262.50" y1="17.57" x2="260.20" y2="17.57" stroke="#000" stroke-width="1.2" />
<line x1="45.50" y1="15.84" x2="47.80" y2="15.84" stroke="#000" stroke-width="1.2" />
<line x1="262.50" y1="15.84" x2="260.20" y2="15.84" stroke="#000" stroke-width="1.2" />
<line x1="45.50" y1="14.44" x2="47.80" y2="14.44" stroke="#000" stroke-width="1.2" />
<line x1="262.50" y1="14.44" x2="260.20" y2="14.44" stroke="#000" stroke-width="1.2" />
<line x1="45.50" y1="13.25" x2="47.80" y2="13.25" stroke="#000" stroke-width="1.2" />
<line x1="262.50" y1="13.25" x2="260.20" y2="13.25" stroke="#000" stroke-width="1.2" />
<line x1="45.50" y1="12.22" x2="47.80" y2="12.22" stroke="#000" stroke-width="1.2" />
<line x1="262.50" y1="12.22" x2="260.20" y2="12.22" stroke="#000" stroke-width="1.2" />
<line x1="45.50" y1="11.31" x2="47.80" y2="11.31" stroke="#000" stroke-width="1.2" />
<line x1="262.50" y1="11.31" x2="260.20" y2="11.31" stroke="#000" stroke-width="1.2" />
<line x1="45.50" y1="10.50" x2="49.10" y2="10.50" stroke="#000" stroke-width="1.2" />
<line x1="262.50" y1="10.50" x2="258.90" y2="10.50" stroke="#000" stroke-width="1.2" />
<text x="42.00" y="173.00" font-size="9.4" text-anchor="end" font-weight="bold" >10<tspan font-size="5.5" dy="-5.6">-13</tspan></text>
<text x="42.00" y="155.24" font-size="9.4" text-anchor="end" font-weight="bold" >10<tspan font-size="5.5" dy="-5.6">-12</tspan></text>
<text x="42.00" y="137.49" font-size="9.4" text-anchor="end" font-weight="bold" >10<tspan font-size="5.5" dy="-5.6">-11</tspan></text>
<text x="42.00" y="119.73" font-size="9.4" text-anchor="end" font-weight="bold" >10<tspan font-size="5.5" dy="-5.6">-10</tspan></text>
<text x="42.00" y="101.98" font-size="9.4" text-anchor="end" font-weight="bold" >10<tspan font-size="5.5" dy="-5.6">-9</tspan></text>
<text x="42.00" y="84.22" font-size="9.4" text-anchor="end" font-weight="bold" >10<tspan font-size="5.5" dy="-5.6">-8</tspan></text>
<text x="42.00" y="66.47" font-size="9.4" text-anchor="end" font-weight="bold" >10<tspan font-size="5.5" dy="-5.6">-7</tspan></text>
<text x="42.00" y="48.71" font-size="9.4" text-anchor="end" font-weight="bold" >10<tspan font-size="5.5" dy="-5.6">-6</tspan></text>
<text x="42.00" y="30.96" font-size="9.4" text-anchor="end" font-weight="bold" >10<tspan font-size="5.5" dy="-5.6">-5</tspan></text>
<text x="42.00" y="13.20" font-size="9.4" text-anchor="end" font-weight="bold" >10<tspan font-size="5.5" dy="-5.6">-4</tspan></text>
<text x="45.50" y="181.70" font-size="9.4" text-anchor="middle" font-weight="bold" >-1.5</text>
<text x="76.50" y="181.70" font-size="9.4" text-anchor="middle" font-weight="bold" >-1.0</text>
<text x="107.50" y="181.70" font-size="9.4" text-anchor="middle" font-weight="bold" >-0.5</text>
<text x="138.50" y="181.70" font-size="9.4" text-anchor="middle" font-weight="bold" >0.0</text>
<text x="169.50" y="181.70" font-size="9.4" text-anchor="middle" font-weight="bold" >0.5</text>
<text x="200.50" y="181.70" font-size="9.4" text-anchor="middle" font-weight="bold" >1.0</text>
<text x="231.50" y="181.70" font-size="9.4" text-anchor="middle" font-weight="bold" >1.5</text>
<text x="262.50" y="181.70" font-size="9.4" text-anchor="middle" font-weight="bold" >2.0</text>
<text x="56.30" y="29.80" font-size="9.85" text-anchor="start" font-weight="bold" ><tspan>Read&#160;</tspan><tspan font-weight="normal" font-size="10.44" stroke-width="0.15">@</tspan><tspan font-style="italic">V</tspan><tspan font-size="5.71" stroke-width="0" dy="4.33">G2</tspan><tspan dy="-4.33">&#160;=&#160;0&#160;V</tspan></text>
<text x="55.50" y="49.50" font-size="9.9" text-anchor="start" font-weight="bold" ># of pulse</text>
<line x1="54.00" y1="61.80" x2="77.80" y2="61.80" stroke="#000" stroke-width="1.45" />
<text x="79.60" y="65.00" font-size="9.9" text-anchor="start" font-weight="bold" >Initial</text>
<line x1="54.00" y1="74.40" x2="77.80" y2="74.40" stroke="#f00" stroke-width="1.45" />
<text x="79.60" y="77.60" font-size="9.9" text-anchor="start" font-weight="bold" >1</text>
<line x1="54.00" y1="87.00" x2="77.80" y2="87.00" stroke="#0f0" stroke-width="1.45" />
<text x="79.60" y="90.20" font-size="9.9" text-anchor="start" font-weight="bold" >2</text>
<line x1="54.00" y1="99.60" x2="77.80" y2="99.60" stroke="#00f" stroke-width="1.45" />
<text x="79.60" y="102.80" font-size="9.9" text-anchor="start" font-weight="bold" >5</text>
<line x1="54.00" y1="112.20" x2="77.80" y2="112.20" stroke="#0ff" stroke-width="1.45" />
<text x="79.60" y="115.40" font-size="9.9" text-anchor="start" font-weight="bold" >10</text>
<line x1="54.00" y1="124.80" x2="77.80" y2="124.80" stroke="#f0f" stroke-width="1.45" />
<text x="79.60" y="128.00" font-size="9.9" text-anchor="start" font-weight="bold" >15</text>
<line x1="54.00" y1="137.40" x2="77.80" y2="137.40" stroke="#ff0" stroke-width="1.45" />
<text x="79.60" y="140.60" font-size="9.9" text-anchor="start" font-weight="bold" >20</text>
<text x="177.80" y="115.30" font-size="9.8" text-anchor="start" font-weight="bold" ><tspan>PGM&#160;condition</tspan></text>
<text x="164.00" y="129.30" font-size="9.7" text-anchor="start" font-weight="bold" ><tspan font-style="italic">V</tspan><tspan font-size="5.63" stroke-width="0" dy="4.27">G2</tspan><tspan dy="-4.27">&#160;=&#160;7&#160;V</tspan></text>
<text x="164.00" y="145.50" font-size="9.7" text-anchor="start" font-weight="bold" ><tspan font-style="italic">t</tspan><tspan font-size="5.63" stroke-width="0" dy="4.27">pulse</tspan><tspan dy="-4.27">&#160;=&#160;100&#160;µs</tspan></text>
<text x="164.50" y="162.00" font-size="9.6" text-anchor="start" font-weight="bold" ><tspan font-style="italic">V</tspan><tspan font-size="5.57" stroke-width="0" dy="4.22">D</tspan><tspan dy="-4.22">,&#160;</tspan><tspan font-style="italic">V</tspan><tspan font-size="5.57" stroke-width="0" dy="4.22">S</tspan><tspan dy="-4.22">,&#160;and&#160;</tspan><tspan font-style="italic">V</tspan><tspan font-size="5.57" stroke-width="0" dy="4.22">G1</tspan><tspan dy="-4.22">&#160;=&#160;0&#160;V</tspan></text>
<text x="1.60" y="189.50" font-size="15.8" text-anchor="start" font-weight="bold" >(a)</text>
<text x="137.40" y="193.30" font-size="11.1" text-anchor="start" font-weight="bold" ><tspan font-style="italic">V</tspan><tspan font-size="6.44" stroke-width="0" dy="4.88">G1</tspan><tspan dy="-4.88">&#160;(V)</tspan></text>
<text x="0.00" y="0.00" font-size="11.5" text-anchor="start" font-weight="bold" transform="translate(12.8,110.2) rotate(-90)"><tspan font-style="italic">I</tspan><tspan font-size="6.67" stroke-width="0" dy="5.06">D</tspan><tspan dy="-5.06">&#160;(A)</tspan></text>
<clipPath id="cb"><rect x="325.5" y="9.4" width="220.10000000000002" height="162.1"/></clipPath><g clip-path="url(#cb)">
<polyline points="335.30,148.61 337.30,130.51 339.31,119.77 341.31,112.09 343.31,106.10 345.31,101.18 347.32,97.01 349.32,93.38 351.32,90.17 353.33,87.29 355.33,84.68 357.33,82.29 359.34,80.09 361.34,78.04 363.34,76.14 365.35,74.36 367.35,72.68 369.35,71.09 371.35,69.59 373.36,68.17 375.36,66.81 377.36,65.51 379.37,64.27 381.37,63.09 383.37,61.95 385.38,60.85 387.38,59.79 389.38,58.78 391.38,57.79 393.39,56.84 395.39,55.92 397.39,55.03 399.40,54.16 401.40,53.32 403.40,52.51 405.41,51.71 407.41,50.94 409.41,50.19 411.41,49.46 413.42,48.74 415.42,48.04 417.42,47.36 419.43,46.70 421.43,46.05 423.43,45.41 425.44,44.79 427.44,44.18 429.44,43.58 431.44,43.00 433.45,42.42 435.45,41.86 437.45,67.60 439.46,77.04 441.46,85.57 443.46,90.65 445.47,94.69 447.47,98.06 449.47,100.96 451.47,103.51 453.48,105.79 455.48,107.84 457.48,109.72 459.49,111.45 461.49,113.05 463.49,114.55 465.50,115.95 467.50,117.27 469.50,118.52 471.50,119.70 473.51,120.82 475.51,121.89 477.51,122.91 479.52,123.89 481.52,124.83 483.52,125.73 485.53,126.60 487.53,127.44 489.53,128.25 491.53,129.03 493.54,129.79 495.54,130.52 497.54,131.23 499.55,131.92 501.55,132.60 503.55,133.25 505.56,133.88 507.56,134.58 509.56,135.27 511.56,135.94 513.57,136.60 515.57,137.24 517.57,137.87 519.58,138.49 521.58,139.09 523.58,139.69 525.59,140.27 527.59,140.85 529.59,141.41 531.59,141.97 533.60,142.51 535.60,143.05 537.60,143.58 539.61,144.10 541.61,144.62 543.61,145.12 545.62,145.62" fill="none" stroke="#000" stroke-width="1.0" stroke-linejoin="round" />
<rect x="332.30" y="145.61" width="6.0" height="6.0" fill="#000"/>
<rect x="334.30" y="127.51" width="6.0" height="6.0" fill="#000"/>
<rect x="336.31" y="116.77" width="6.0" height="6.0" fill="#000"/>
<rect x="338.31" y="109.09" width="6.0" height="6.0" fill="#000"/>
<rect x="340.31" y="103.10" width="6.0" height="6.0" fill="#000"/>
<rect x="342.31" y="98.18" width="6.0" height="6.0" fill="#000"/>
<rect x="344.32" y="94.01" width="6.0" height="6.0" fill="#000"/>
<rect x="346.32" y="90.38" width="6.0" height="6.0" fill="#000"/>
<rect x="348.32" y="87.17" width="6.0" height="6.0" fill="#000"/>
<rect x="350.33" y="84.29" width="6.0" height="6.0" fill="#000"/>
<rect x="352.33" y="81.68" width="6.0" height="6.0" fill="#000"/>
<rect x="354.33" y="79.29" width="6.0" height="6.0" fill="#000"/>
<rect x="356.34" y="77.09" width="6.0" height="6.0" fill="#000"/>
<rect x="358.34" y="75.04" width="6.0" height="6.0" fill="#000"/>
<rect x="360.34" y="73.14" width="6.0" height="6.0" fill="#000"/>
<rect x="362.35" y="71.36" width="6.0" height="6.0" fill="#000"/>
<rect x="364.35" y="69.68" width="6.0" height="6.0" fill="#000"/>
<rect x="366.35" y="68.09" width="6.0" height="6.0" fill="#000"/>
<rect x="368.35" y="66.59" width="6.0" height="6.0" fill="#000"/>
<rect x="370.36" y="65.17" width="6.0" height="6.0" fill="#000"/>
<rect x="372.36" y="63.81" width="6.0" height="6.0" fill="#000"/>
<rect x="374.36" y="62.51" width="6.0" height="6.0" fill="#000"/>
<rect x="376.37" y="61.27" width="6.0" height="6.0" fill="#000"/>
<rect x="378.37" y="60.09" width="6.0" height="6.0" fill="#000"/>
<rect x="380.37" y="58.95" width="6.0" height="6.0" fill="#000"/>
<rect x="382.38" y="57.85" width="6.0" height="6.0" fill="#000"/>
<rect x="384.38" y="56.79" width="6.0" height="6.0" fill="#000"/>
<rect x="386.38" y="55.78" width="6.0" height="6.0" fill="#000"/>
<rect x="388.38" y="54.79" width="6.0" height="6.0" fill="#000"/>
<rect x="390.39" y="53.84" width="6.0" height="6.0" fill="#000"/>
<rect x="392.39" y="52.92" width="6.0" height="6.0" fill="#000"/>
<rect x="394.39" y="52.03" width="6.0" height="6.0" fill="#000"/>
<rect x="396.40" y="51.16" width="6.0" height="6.0" fill="#000"/>
<rect x="398.40" y="50.32" width="6.0" height="6.0" fill="#000"/>
<rect x="400.40" y="49.51" width="6.0" height="6.0" fill="#000"/>
<rect x="402.41" y="48.71" width="6.0" height="6.0" fill="#000"/>
<rect x="404.41" y="47.94" width="6.0" height="6.0" fill="#000"/>
<rect x="406.41" y="47.19" width="6.0" height="6.0" fill="#000"/>
<rect x="408.41" y="46.46" width="6.0" height="6.0" fill="#000"/>
<rect x="410.42" y="45.74" width="6.0" height="6.0" fill="#000"/>
<rect x="412.42" y="45.04" width="6.0" height="6.0" fill="#000"/>
<rect x="414.42" y="44.36" width="6.0" height="6.0" fill="#000"/>
<rect x="416.43" y="43.70" width="6.0" height="6.0" fill="#000"/>
<rect x="418.43" y="43.05" width="6.0" height="6.0" fill="#000"/>
<rect x="420.43" y="42.41" width="6.0" height="6.0" fill="#000"/>
<rect x="422.44" y="41.79" width="6.0" height="6.0" fill="#000"/>
<rect x="424.44" y="41.18" width="6.0" height="6.0" fill="#000"/>
<rect x="426.44" y="40.58" width="6.0" height="6.0" fill="#000"/>
<rect x="428.44" y="40.00" width="6.0" height="6.0" fill="#000"/>
<rect x="430.45" y="39.42" width="6.0" height="6.0" fill="#000"/>
<rect x="432.45" y="38.86" width="6.0" height="6.0" fill="#000"/>
<rect x="434.45" y="64.60" width="6.0" height="6.0" fill="#000"/>
<rect x="436.46" y="74.04" width="6.0" height="6.0" fill="#000"/>
<rect x="438.46" y="82.57" width="6.0" height="6.0" fill="#000"/>
<rect x="440.46" y="87.65" width="6.0" height="6.0" fill="#000"/>
<rect x="442.47" y="91.69" width="6.0" height="6.0" fill="#000"/>
<rect x="444.47" y="95.06" width="6.0" height="6.0" fill="#000"/>
<rect x="446.47" y="97.96" width="6.0" height="6.0" fill="#000"/>
<rect x="448.47" y="100.51" width="6.0" height="6.0" fill="#000"/>
<rect x="450.48" y="102.79" width="6.0" height="6.0" fill="#000"/>
<rect x="452.48" y="104.84" width="6.0" height="6.0" fill="#000"/>
<rect x="454.48" y="106.72" width="6.0" height="6.0" fill="#000"/>
<rect x="456.49" y="108.45" width="6.0" height="6.0" fill="#000"/>
<rect x="458.49" y="110.05" width="6.0" height="6.0" fill="#000"/>
<rect x="460.49" y="111.55" width="6.0" height="6.0" fill="#000"/>
<rect x="462.50" y="112.95" width="6.0" height="6.0" fill="#000"/>
<rect x="464.50" y="114.27" width="6.0" height="6.0" fill="#000"/>
<rect x="466.50" y="115.52" width="6.0" height="6.0" fill="#000"/>
<rect x="468.50" y="116.70" width="6.0" height="6.0" fill="#000"/>
<rect x="470.51" y="117.82" width="6.0" height="6.0" fill="#000"/>
<rect x="472.51" y="118.89" width="6.0" height="6.0" fill="#000"/>
<rect x="474.51" y="119.91" width="6.0" height="6.0" fill="#000"/>
<rect x="476.52" y="120.89" width="6.0" height="6.0" fill="#000"/>
<rect x="478.52" y="121.83" width="6.0" height="6.0" fill="#000"/>
<rect x="480.52" y="122.73" width="6.0" height="6.0" fill="#000"/>
<rect x="482.53" y="123.60" width="6.0" height="6.0" fill="#000"/>
<rect x="484.53" y="124.44" width="6.0" height="6.0" fill="#000"/>
<rect x="486.53" y="125.25" width="6.0" height="6.0" fill="#000"/>
<rect x="488.53" y="126.03" width="6.0" height="6.0" fill="#000"/>
<rect x="490.54" y="126.79" width="6.0" height="6.0" fill="#000"/>
<rect x="492.54" y="127.52" width="6.0" height="6.0" fill="#000"/>
<rect x="494.54" y="128.23" width="6.0" height="6.0" fill="#000"/>
<rect x="496.55" y="128.92" width="6.0" height="6.0" fill="#000"/>
<rect x="498.55" y="129.60" width="6.0" height="6.0" fill="#000"/>
<rect x="500.55" y="130.25" width="6.0" height="6.0" fill="#000"/>
<rect x="502.56" y="130.88" width="6.0" height="6.0" fill="#000"/>
<rect x="504.56" y="131.58" width="6.0" height="6.0" fill="#000"/>
<rect x="506.56" y="132.27" width="6.0" height="6.0" fill="#000"/>
<rect x="508.56" y="132.94" width="6.0" height="6.0" fill="#000"/>
<rect x="510.57" y="133.60" width="6.0" height="6.0" fill="#000"/>
<rect x="512.57" y="134.24" width="6.0" height="6.0" fill="#000"/>
<rect x="514.57" y="134.87" width="6.0" height="6.0" fill="#000"/>
<rect x="516.58" y="135.49" width="6.0" height="6.0" fill="#000"/>
<rect x="518.58" y="136.09" width="6.0" height="6.0" fill="#000"/>
<rect x="520.58" y="136.69" width="6.0" height="6.0" fill="#000"/>
<rect x="522.59" y="137.27" width="6.0" height="6.0" fill="#000"/>
<rect x="524.59" y="137.85" width="6.0" height="6.0" fill="#000"/>
<rect x="526.59" y="138.41" width="6.0" height="6.0" fill="#000"/>
<rect x="528.59" y="138.97" width="6.0" height="6.0" fill="#000"/>
<rect x="530.60" y="139.51" width="6.0" height="6.0" fill="#000"/>
<rect x="532.60" y="140.05" width="6.0" height="6.0" fill="#000"/>
<rect x="534.60" y="140.58" width="6.0" height="6.0" fill="#000"/>
<rect x="536.61" y="141.10" width="6.0" height="6.0" fill="#000"/>
<rect x="538.61" y="141.62" width="6.0" height="6.0" fill="#000"/>
<rect x="540.61" y="142.12" width="6.0" height="6.0" fill="#000"/>
<rect x="542.62" y="142.62" width="6.0" height="6.0" fill="#000"/>
</g>
<line x1="436.50" y1="11.50" x2="436.50" y2="170.50" stroke="#f00" stroke-width="3" stroke-dasharray="9.7 14.6" stroke-linecap="round"/>
<rect x="325.50" y="9.40" width="220.10" height="162.10" fill="none" stroke="#000" stroke-width="1.2"/>
<line x1="335.30" y1="171.50" x2="335.30" y2="167.70" stroke="#000" stroke-width="1.2" />
<line x1="335.30" y1="9.40" x2="335.30" y2="13.20" stroke="#000" stroke-width="1.2" />
<line x1="345.31" y1="171.50" x2="345.31" y2="169.20" stroke="#000" stroke-width="1.2" />
<line x1="345.31" y1="9.40" x2="345.31" y2="11.70" stroke="#000" stroke-width="1.2" />
<line x1="355.33" y1="171.50" x2="355.33" y2="167.70" stroke="#000" stroke-width="1.2" />
<line x1="355.33" y1="9.40" x2="355.33" y2="13.20" stroke="#000" stroke-width="1.2" />
<line x1="365.35" y1="171.50" x2="365.35" y2="169.20" stroke="#000" stroke-width="1.2" />
<line x1="365.35" y1="9.40" x2="365.35" y2="11.70" stroke="#000" stroke-width="1.2" />
<line x1="375.36" y1="171.50" x2="375.36" y2="167.70" stroke="#000" stroke-width="1.2" />
<line x1="375.36" y1="9.40" x2="375.36" y2="13.20" stroke="#000" stroke-width="1.2" />
<line x1="385.38" y1="171.50" x2="385.38" y2="169.20" stroke="#000" stroke-width="1.2" />
<line x1="385.38" y1="9.40" x2="385.38" y2="11.70" stroke="#000" stroke-width="1.2" />
<line x1="395.39" y1="171.50" x2="395.39" y2="167.70" stroke="#000" stroke-width="1.2" />
<line x1="395.39" y1="9.40" x2="395.39" y2="13.20" stroke="#000" stroke-width="1.2" />
<line x1="405.41" y1="171.50" x2="405.41" y2="169.20" stroke="#000" stroke-width="1.2" />
<line x1="405.41" y1="9.40" x2="405.41" y2="11.70" stroke="#000" stroke-width="1.2" />
<line x1="415.42" y1="171.50" x2="415.42" y2="167.70" stroke="#000" stroke-width="1.2" />
<line x1="415.42" y1="9.40" x2="415.42" y2="13.20" stroke="#000" stroke-width="1.2" />
<line x1="425.44" y1="171.50" x2="425.44" y2="169.20" stroke="#000" stroke-width="1.2" />
<line x1="425.44" y1="9.40" x2="425.44" y2="11.70" stroke="#000" stroke-width="1.2" />
<line x1="435.45" y1="171.50" x2="435.45" y2="167.70" stroke="#000" stroke-width="1.2" />
<line x1="435.45" y1="9.40" x2="435.45" y2="13.20" stroke="#000" stroke-width="1.2" />
<line x1="445.47" y1="171.50" x2="445.47" y2="169.20" stroke="#000" stroke-width="1.2" />
<line x1="445.47" y1="9.40" x2="445.47" y2="11.70" stroke="#000" stroke-width="1.2" />
<line x1="455.48" y1="171.50" x2="455.48" y2="167.70" stroke="#000" stroke-width="1.2" />
<line x1="455.48" y1="9.40" x2="455.48" y2="13.20" stroke="#000" stroke-width="1.2" />
<line x1="465.50" y1="171.50" x2="465.50" y2="169.20" stroke="#000" stroke-width="1.2" />
<line x1="465.50" y1="9.40" x2="465.50" y2="11.70" stroke="#000" stroke-width="1.2" />
<line x1="475.51" y1="171.50" x2="475.51" y2="167.70" stroke="#000" stroke-width="1.2" />
<line x1="475.51" y1="9.40" x2="475.51" y2="13.20" stroke="#000" stroke-width="1.2" />
<line x1="485.53" y1="171.50" x2="485.53" y2="169.20" stroke="#000" stroke-width="1.2" />
<line x1="485.53" y1="9.40" x2="485.53" y2="11.70" stroke="#000" stroke-width="1.2" />
<line x1="495.54" y1="171.50" x2="495.54" y2="167.70" stroke="#000" stroke-width="1.2" />
<line x1="495.54" y1="9.40" x2="495.54" y2="13.20" stroke="#000" stroke-width="1.2" />
<line x1="505.56" y1="171.50" x2="505.56" y2="169.20" stroke="#000" stroke-width="1.2" />
<line x1="505.56" y1="9.40" x2="505.56" y2="11.70" stroke="#000" stroke-width="1.2" />
<line x1="515.57" y1="171.50" x2="515.57" y2="167.70" stroke="#000" stroke-width="1.2" />
<line x1="515.57" y1="9.40" x2="515.57" y2="13.20" stroke="#000" stroke-width="1.2" />
<line x1="525.59" y1="171.50" x2="525.59" y2="169.20" stroke="#000" stroke-width="1.2" />
<line x1="525.59" y1="9.40" x2="525.59" y2="11.70" stroke="#000" stroke-width="1.2" />
<line x1="535.60" y1="171.50" x2="535.60" y2="167.70" stroke="#000" stroke-width="1.2" />
<line x1="535.60" y1="9.40" x2="535.60" y2="13.20" stroke="#000" stroke-width="1.2" />
<line x1="325.50" y1="171.70" x2="329.30" y2="171.70" stroke="#000" stroke-width="1.2" />
<line x1="545.60" y1="171.70" x2="541.80" y2="171.70" stroke="#000" stroke-width="1.2" />
<line x1="325.50" y1="160.10" x2="327.80" y2="160.10" stroke="#000" stroke-width="1.2" />
<line x1="545.60" y1="160.10" x2="543.30" y2="160.10" stroke="#000" stroke-width="1.2" />
<line x1="325.50" y1="148.50" x2="329.30" y2="148.50" stroke="#000" stroke-width="1.2" />
<line x1="545.60" y1="148.50" x2="541.80" y2="148.50" stroke="#000" stroke-width="1.2" />
<line x1="325.50" y1="136.90" x2="327.80" y2="136.90" stroke="#000" stroke-width="1.2" />
<line x1="545.60" y1="136.90" x2="543.30" y2="136.90" stroke="#000" stroke-width="1.2" />
<line x1="325.50" y1="125.30" x2="329.30" y2="125.30" stroke="#000" stroke-width="1.2" />
<line x1="545.60" y1="125.30" x2="541.80" y2="125.30" stroke="#000" stroke-width="1.2" />
<line x1="325.50" y1="113.70" x2="327.80" y2="113.70" stroke="#000" stroke-width="1.2" />
<line x1="545.60" y1="113.70" x2="543.30" y2="113.70" stroke="#000" stroke-width="1.2" />
<line x1="325.50" y1="102.10" x2="329.30" y2="102.10" stroke="#000" stroke-width="1.2" />
<line x1="545.60" y1="102.10" x2="541.80" y2="102.10" stroke="#000" stroke-width="1.2" />
<line x1="325.50" y1="90.50" x2="327.80" y2="90.50" stroke="#000" stroke-width="1.2" />
<line x1="545.60" y1="90.50" x2="543.30" y2="90.50" stroke="#000" stroke-width="1.2" />
<line x1="325.50" y1="78.90" x2="329.30" y2="78.90" stroke="#000" stroke-width="1.2" />
<line x1="545.60" y1="78.90" x2="541.80" y2="78.90" stroke="#000" stroke-width="1.2" />
<line x1="325.50" y1="67.30" x2="327.80" y2="67.30" stroke="#000" stroke-width="1.2" />
<line x1="545.60" y1="67.30" x2="543.30" y2="67.30" stroke="#000" stroke-width="1.2" />
<line x1="325.50" y1="55.70" x2="329.30" y2="55.70" stroke="#000" stroke-width="1.2" />
<line x1="545.60" y1="55.70" x2="541.80" y2="55.70" stroke="#000" stroke-width="1.2" />
<line x1="325.50" y1="44.10" x2="327.80" y2="44.10" stroke="#000" stroke-width="1.2" />
<line x1="545.60" y1="44.10" x2="543.30" y2="44.10" stroke="#000" stroke-width="1.2" />
<line x1="325.50" y1="32.50" x2="329.30" y2="32.50" stroke="#000" stroke-width="1.2" />
<line x1="545.60" y1="32.50" x2="541.80" y2="32.50" stroke="#000" stroke-width="1.2" />
<line x1="325.50" y1="20.90" x2="327.80" y2="20.90" stroke="#000" stroke-width="1.2" />
<line x1="545.60" y1="20.90" x2="543.30" y2="20.90" stroke="#000" stroke-width="1.2" />
<line x1="325.50" y1="9.30" x2="329.30" y2="9.30" stroke="#000" stroke-width="1.2" />
<line x1="545.60" y1="9.30" x2="541.80" y2="9.30" stroke="#000" stroke-width="1.2" />
<text x="321.80" y="175.10" font-size="9.6" text-anchor="end" font-weight="bold" >0.55</text>
<text x="321.80" y="151.90" font-size="9.6" text-anchor="end" font-weight="bold" >0.60</text>
<text x="321.80" y="128.70" font-size="9.6" text-anchor="end" font-weight="bold" >0.65</text>
<text x="321.80" y="105.50" font-size="9.6" text-anchor="end" font-weight="bold" >0.70</text>
<text x="321.80" y="82.30" font-size="9.6" text-anchor="end" font-weight="bold" >0.75</text>
<text x="321.80" y="59.10" font-size="9.6" text-anchor="end" font-weight="bold" >0.80</text>
<text x="321.80" y="35.90" font-size="9.6" text-anchor="end" font-weight="bold" >0.85</text>
<text x="321.80" y="12.70" font-size="9.6" text-anchor="end" font-weight="bold" >0.90</text>
<text x="335.30" y="183.00" font-size="9.6" text-anchor="middle" font-weight="bold" >0</text>
<text x="355.33" y="183.00" font-size="9.6" text-anchor="middle" font-weight="bold" >10</text>
<text x="375.36" y="183.00" font-size="9.6" text-anchor="middle" font-weight="bold" >20</text>
<text x="395.39" y="183.00" font-size="9.6" text-anchor="middle" font-weight="bold" >30</text>
<text x="415.42" y="183.00" font-size="9.6" text-anchor="middle" font-weight="bold" >40</text>
<text x="435.45" y="183.00" font-size="9.6" text-anchor="middle" font-weight="bold" >50</text>
<text x="455.48" y="183.00" font-size="9.6" text-anchor="middle" font-weight="bold" >60</text>
<text x="475.51" y="183.00" font-size="9.6" text-anchor="middle" font-weight="bold" >70</text>
<text x="495.54" y="183.00" font-size="9.6" text-anchor="middle" font-weight="bold" >80</text>
<text x="515.57" y="183.00" font-size="9.6" text-anchor="middle" font-weight="bold" >90</text>
<text x="535.60" y="183.00" font-size="9.6" text-anchor="middle" font-weight="bold" >100</text>
<text x="447.00" y="25.00" font-size="9.95" text-anchor="start" font-weight="bold" ><tspan>PGM&#160;:&#160;</tspan><tspan font-style="italic">V</tspan><tspan font-size="5.77" stroke-width="0" dy="4.38">G2</tspan><tspan dy="-4.38">&#160;=&#160;7&#160;V</tspan></text>
<text x="447.00" y="41.00" font-size="9.95" text-anchor="start" font-weight="bold" ><tspan>ERS&#160;:&#160;</tspan><tspan font-style="italic">V</tspan><tspan font-size="5.77" stroke-width="0" dy="4.38">G2</tspan><tspan dy="-4.38">&#160;=&#160;-&#160;7.5&#160;V</tspan></text>
<text x="447.00" y="57.50" font-size="9.95" text-anchor="start" font-weight="bold" ><tspan font-style="italic">t</tspan><tspan font-size="5.77" stroke-width="0" dy="4.38">pulse</tspan><tspan dy="-4.38">&#160;=&#160;&#160;100&#160;µs</tspan></text>
<text x="447.00" y="73.50" font-size="9.95" text-anchor="start" font-weight="bold" ><tspan font-weight="normal" font-size="10.55" stroke-width="0.15">@</tspan><tspan font-style="italic">I</tspan><tspan font-size="5.77" stroke-width="0" dy="4.38">D</tspan><tspan dy="-4.38">&#160;=&#160;10&#160;nA</tspan></text>
<text x="285.00" y="189.50" font-size="15.6" text-anchor="start" font-weight="bold" >(b)</text>
<text x="375.80" y="198.20" font-size="12.65" text-anchor="start" font-weight="bold" >Number of pulse (#)</text>
<text x="0.00" y="0.00" font-size="13" text-anchor="start" font-weight="bold" transform="translate(292.7,158.8) rotate(-90)">Threshold voltage (V)</text>
<polyline points="60.50,259.50 75.55,262.23 95.45,256.77 110.50,251.30 125.55,262.23 145.45,259.50 160.50,264.97 175.55,256.77 195.45,259.50 210.50,254.03 225.55,256.77 245.45,264.97 260.50,267.70" fill="none" stroke="#000" stroke-width="1.2" stroke-linejoin="round" />
<rect x="58.20" y="257.20" width="4.6" height="4.6" fill="#000"/>
<rect x="73.25" y="259.93" width="4.6" height="4.6" fill="#000"/>
<rect x="93.15" y="254.47" width="4.6" height="4.6" fill="#000"/>
<rect x="108.20" y="249.00" width="4.6" height="4.6" fill="#000"/>
<rect x="123.25" y="259.93" width="4.6" height="4.6" fill="#000"/>
<rect x="143.15" y="257.20" width="4.6" height="4.6" fill="#000"/>
<rect x="158.20" y="262.67" width="4.6" height="4.6" fill="#000"/>
<rect x="173.25" y="254.47" width="4.6" height="4.6" fill="#000"/>
<rect x="193.15" y="257.20" width="4.6" height="4.6" fill="#000"/>
<rect x="208.20" y="251.73" width="4.6" height="4.6" fill="#000"/>
<rect x="223.25" y="254.47" width="4.6" height="4.6" fill="#000"/>
<rect x="243.15" y="262.67" width="4.6" height="4.6" fill="#000"/>
<rect x="258.20" y="265.40" width="4.6" height="4.6" fill="#000"/>
<polyline points="60.50,316.90 75.55,314.17 95.45,325.10 110.50,322.37 125.55,314.17 145.45,319.63 160.50,316.90 175.55,314.17 195.45,316.90 210.50,311.43 225.55,305.97 245.45,314.17 260.50,305.97" fill="none" stroke="#f00" stroke-width="1.4" stroke-linejoin="round" />
<circle cx="60.50" cy="316.90" r="2.7" fill="#f00"/>
<circle cx="75.55" cy="314.17" r="2.7" fill="#f00"/>
<circle cx="95.45" cy="325.10" r="2.7" fill="#f00"/>
<circle cx="110.50" cy="322.37" r="2.7" fill="#f00"/>
<circle cx="125.55" cy="314.17" r="2.7" fill="#f00"/>
<circle cx="145.45" cy="319.63" r="2.7" fill="#f00"/>
<circle cx="160.50" cy="316.90" r="2.7" fill="#f00"/>
<circle cx="175.55" cy="314.17" r="2.7" fill="#f00"/>
<circle cx="195.45" cy="316.90" r="2.7" fill="#f00"/>
<circle cx="210.50" cy="311.43" r="2.7" fill="#f00"/>
<circle cx="225.55" cy="305.97" r="2.7" fill="#f00"/>
<circle cx="245.45" cy="314.17" r="2.7" fill="#f00"/>
<circle cx="260.50" cy="305.97" r="2.7" fill="#f00"/>
<rect x="45.50" y="210.30" width="223.50" height="164.00" fill="none" stroke="#000" stroke-width="1.2"/>
<line x1="49.41" y1="374.30" x2="49.41" y2="371.10" stroke="#000" stroke-width="1.2" />
<line x1="49.41" y1="210.30" x2="49.41" y2="213.50" stroke="#000" stroke-width="1.2" />
<line x1="52.75" y1="374.30" x2="52.75" y2="371.10" stroke="#000" stroke-width="1.2" />
<line x1="52.75" y1="210.30" x2="52.75" y2="213.50" stroke="#000" stroke-width="1.2" />
<line x1="55.65" y1="374.30" x2="55.65" y2="371.10" stroke="#000" stroke-width="1.2" />
<line x1="55.65" y1="210.30" x2="55.65" y2="213.50" stroke="#000" stroke-width="1.2" />
<line x1="58.21" y1="374.30" x2="58.21" y2="371.10" stroke="#000" stroke-width="1.2" />
<line x1="58.21" y1="210.30" x2="58.21" y2="213.50" stroke="#000" stroke-width="1.2" />
<line x1="60.50" y1="374.30" x2="60.50" y2="369.10" stroke="#000" stroke-width="1.2" />
<line x1="60.50" y1="210.30" x2="60.50" y2="215.50" stroke="#000" stroke-width="1.2" />
<line x1="75.55" y1="374.30" x2="75.55" y2="371.10" stroke="#000" stroke-width="1.2" />
<line x1="75.55" y1="210.30" x2="75.55" y2="213.50" stroke="#000" stroke-width="1.2" />
<line x1="84.36" y1="374.30" x2="84.36" y2="371.10" stroke="#000" stroke-width="1.2" />
<line x1="84.36" y1="210.30" x2="84.36" y2="213.50" stroke="#000" stroke-width="1.2" />
<line x1="90.60" y1="374.30" x2="90.60" y2="371.10" stroke="#000" stroke-width="1.2" />
<line x1="90.60" y1="210.30" x2="90.60" y2="213.50" stroke="#000" stroke-width="1.2" />
<line x1="95.45" y1="374.30" x2="95.45" y2="371.10" stroke="#000" stroke-width="1.2" />
<line x1="95.45" y1="210.30" x2="95.45" y2="213.50" stroke="#000" stroke-width="1.2" />
<line x1="99.41" y1="374.30" x2="99.41" y2="371.10" stroke="#000" stroke-width="1.2" />
<line x1="99.41" y1="210.30" x2="99.41" y2="213.50" stroke="#000" stroke-width="1.2" />
<line x1="102.75" y1="374.30" x2="102.75" y2="371.10" stroke="#000" stroke-width="1.2" />
<line x1="102.75" y1="210.30" x2="102.75" y2="213.50" stroke="#000" stroke-width="1.2" />
<line x1="105.65" y1="374.30" x2="105.65" y2="371.10" stroke="#000" stroke-width="1.2" />
<line x1="105.65" y1="210.30" x2="105.65" y2="213.50" stroke="#000" stroke-width="1.2" />
<line x1="108.21" y1="374.30" x2="108.21" y2="371.10" stroke="#000" stroke-width="1.2" />
<line x1="108.21" y1="210.30" x2="108.21" y2="213.50" stroke="#000" stroke-width="1.2" />
<line x1="110.50" y1="374.30" x2="110.50" y2="369.10" stroke="#000" stroke-width="1.2" />
<line x1="110.50" y1="210.30" x2="110.50" y2="215.50" stroke="#000" stroke-width="1.2" />
<line x1="125.55" y1="374.30" x2="125.55" y2="371.10" stroke="#000" stroke-width="1.2" />
<line x1="125.55" y1="210.30" x2="125.55" y2="213.50" stroke="#000" stroke-width="1.2" />
<line x1="134.36" y1="374.30" x2="134.36" y2="371.10" stroke="#000" stroke-width="1.2" />
<line x1="134.36" y1="210.30" x2="134.36" y2="213.50" stroke="#000" stroke-width="1.2" />
<line x1="140.60" y1="374.30" x2="140.60" y2="371.10" stroke="#000" stroke-width="1.2" />
<line x1="140.60" y1="210.30" x2="140.60" y2="213.50" stroke="#000" stroke-width="1.2" />
<line x1="145.45" y1="374.30" x2="145.45" y2="371.10" stroke="#000" stroke-width="1.2" />
<line x1="145.45" y1="210.30" x2="145.45" y2="213.50" stroke="#000" stroke-width="1.2" />
<line x1="149.41" y1="374.30" x2="149.41" y2="371.10" stroke="#000" stroke-width="1.2" />
<line x1="149.41" y1="210.30" x2="149.41" y2="213.50" stroke="#000" stroke-width="1.2" />
<line x1="152.75" y1="374.30" x2="152.75" y2="371.10" stroke="#000" stroke-width="1.2" />
<line x1="152.75" y1="210.30" x2="152.75" y2="213.50" stroke="#000" stroke-width="1.2" />
<line x1="155.65" y1="374.30" x2="155.65" y2="371.10" stroke="#000" stroke-width="1.2" />
<line x1="155.65" y1="210.30" x2="155.65" y2="213.50" stroke="#000" stroke-width="1.2" />
<line x1="158.21" y1="374.30" x2="158.21" y2="371.10" stroke="#000" stroke-width="1.2" />
<line x1="158.21" y1="210.30" x2="158.21" y2="213.50" stroke="#000" stroke-width="1.2" />
<line x1="160.50" y1="374.30" x2="160.50" y2="369.10" stroke="#000" stroke-width="1.2" />
<line x1="160.50" y1="210.30" x2="160.50" y2="215.50" stroke="#000" stroke-width="1.2" />
<line x1="175.55" y1="374.30" x2="175.55" y2="371.10" stroke="#000" stroke-width="1.2" />
<line x1="175.55" y1="210.30" x2="175.55" y2="213.50" stroke="#000" stroke-width="1.2" />
<line x1="184.36" y1="374.30" x2="184.36" y2="371.10" stroke="#000" stroke-width="1.2" />
<line x1="184.36" y1="210.30" x2="184.36" y2="213.50" stroke="#000" stroke-width="1.2" />
<line x1="190.60" y1="374.30" x2="190.60" y2="371.10" stroke="#000" stroke-width="1.2" />
<line x1="190.60" y1="210.30" x2="190.60" y2="213.50" stroke="#000" stroke-width="1.2" />
<line x1="195.45" y1="374.30" x2="195.45" y2="371.10" stroke="#000" stroke-width="1.2" />
<line x1="195.45" y1="210.30" x2="195.45" y2="213.50" stroke="#000" stroke-width="1.2" />
<line x1="199.41" y1="374.30" x2="199.41" y2="371.10" stroke="#000" stroke-width="1.2" />
<line x1="199.41" y1="210.30" x2="199.41" y2="213.50" stroke="#000" stroke-width="1.2" />
<line x1="202.75" y1="374.30" x2="202.75" y2="371.10" stroke="#000" stroke-width="1.2" />
<line x1="202.75" y1="210.30" x2="202.75" y2="213.50" stroke="#000" stroke-width="1.2" />
<line x1="205.65" y1="374.30" x2="205.65" y2="371.10" stroke="#000" stroke-width="1.2" />
<line x1="205.65" y1="210.30" x2="205.65" y2="213.50" stroke="#000" stroke-width="1.2" />
<line x1="208.21" y1="374.30" x2="208.21" y2="371.10" stroke="#000" stroke-width="1.2" />
<line x1="208.21" y1="210.30" x2="208.21" y2="213.50" stroke="#000" stroke-width="1.2" />
<line x1="210.50" y1="374.30" x2="210.50" y2="369.10" stroke="#000" stroke-width="1.2" />
<line x1="210.50" y1="210.30" x2="210.50" y2="215.50" stroke="#000" stroke-width="1.2" />
<line x1="225.55" y1="374.30" x2="225.55" y2="371.10" stroke="#000" stroke-width="1.2" />
<line x1="225.55" y1="210.30" x2="225.55" y2="213.50" stroke="#000" stroke-width="1.2" />
<line x1="234.36" y1="374.30" x2="234.36" y2="371.10" stroke="#000" stroke-width="1.2" />
<line x1="234.36" y1="210.30" x2="234.36" y2="213.50" stroke="#000" stroke-width="1.2" />
<line x1="240.60" y1="374.30" x2="240.60" y2="371.10" stroke="#000" stroke-width="1.2" />
<line x1="240.60" y1="210.30" x2="240.60" y2="213.50" stroke="#000" stroke-width="1.2" />
<line x1="245.45" y1="374.30" x2="245.45" y2="371.10" stroke="#000" stroke-width="1.2" />
<line x1="245.45" y1="210.30" x2="245.45" y2="213.50" stroke="#000" stroke-width="1.2" />
<line x1="249.41" y1="374.30" x2="249.41" y2="371.10" stroke="#000" stroke-width="1.2" />
<line x1="249.41" y1="210.30" x2="249.41" y2="213.50" stroke="#000" stroke-width="1.2" />
<line x1="252.75" y1="374.30" x2="252.75" y2="371.10" stroke="#000" stroke-width="1.2" />
<line x1="252.75" y1="210.30" x2="252.75" y2="213.50" stroke="#000" stroke-width="1.2" />
<line x1="255.65" y1="374.30" x2="255.65" y2="371.10" stroke="#000" stroke-width="1.2" />
<line x1="255.65" y1="210.30" x2="255.65" y2="213.50" stroke="#000" stroke-width="1.2" />
<line x1="258.21" y1="374.30" x2="258.21" y2="371.10" stroke="#000" stroke-width="1.2" />
<line x1="258.21" y1="210.30" x2="258.21" y2="213.50" stroke="#000" stroke-width="1.2" />
<line x1="260.50" y1="374.30" x2="260.50" y2="369.10" stroke="#000" stroke-width="1.2" />
<line x1="260.50" y1="210.30" x2="260.50" y2="215.50" stroke="#000" stroke-width="1.2" />
<line x1="45.50" y1="374.30" x2="50.80" y2="374.30" stroke="#000" stroke-width="1.2" />
<line x1="269.00" y1="374.30" x2="263.70" y2="374.30" stroke="#000" stroke-width="1.2" />
<line x1="45.50" y1="360.63" x2="48.70" y2="360.63" stroke="#000" stroke-width="1.2" />
<line x1="269.00" y1="360.63" x2="265.80" y2="360.63" stroke="#000" stroke-width="1.2" />
<line x1="45.50" y1="346.97" x2="50.80" y2="346.97" stroke="#000" stroke-width="1.2" />
<line x1="269.00" y1="346.97" x2="263.70" y2="346.97" stroke="#000" stroke-width="1.2" />
<line x1="45.50" y1="333.30" x2="48.70" y2="333.30" stroke="#000" stroke-width="1.2" />
<line x1="269.00" y1="333.30" x2="265.80" y2="333.30" stroke="#000" stroke-width="1.2" />
<line x1="45.50" y1="319.63" x2="50.80" y2="319.63" stroke="#000" stroke-width="1.2" />
<line x1="269.00" y1="319.63" x2="263.70" y2="319.63" stroke="#000" stroke-width="1.2" />
<line x1="45.50" y1="305.97" x2="48.70" y2="305.97" stroke="#000" stroke-width="1.2" />
<line x1="269.00" y1="305.97" x2="265.80" y2="305.97" stroke="#000" stroke-width="1.2" />
<line x1="45.50" y1="292.30" x2="50.80" y2="292.30" stroke="#000" stroke-width="1.2" />
<line x1="269.00" y1="292.30" x2="263.70" y2="292.30" stroke="#000" stroke-width="1.2" />
<line x1="45.50" y1="278.63" x2="48.70" y2="278.63" stroke="#000" stroke-width="1.2" />
<line x1="269.00" y1="278.63" x2="265.80" y2="278.63" stroke="#000" stroke-width="1.2" />
<line x1="45.50" y1="264.97" x2="50.80" y2="264.97" stroke="#000" stroke-width="1.2" />
<line x1="269.00" y1="264.97" x2="263.70" y2="264.97" stroke="#000" stroke-width="1.2" />
<line x1="45.50" y1="251.30" x2="48.70" y2="251.30" stroke="#000" stroke-width="1.2" />
<line x1="269.00" y1="251.30" x2="265.80" y2="251.30" stroke="#000" stroke-width="1.2" />
<line x1="45.50" y1="237.63" x2="50.80" y2="237.63" stroke="#000" stroke-width="1.2" />
<line x1="269.00" y1="237.63" x2="263.70" y2="237.63" stroke="#000" stroke-width="1.2" />
<line x1="45.50" y1="223.97" x2="48.70" y2="223.97" stroke="#000" stroke-width="1.2" />
<line x1="269.00" y1="223.97" x2="265.80" y2="223.97" stroke="#000" stroke-width="1.2" />
<line x1="45.50" y1="210.30" x2="50.80" y2="210.30" stroke="#000" stroke-width="1.2" />
<line x1="269.00" y1="210.30" x2="263.70" y2="210.30" stroke="#000" stroke-width="1.2" />
<text x="39.90" y="376.70" font-size="9.4" text-anchor="end" font-weight="bold" >0.4</text>
<text x="39.90" y="349.37" font-size="9.4" text-anchor="end" font-weight="bold" >0.5</text>
<text x="39.90" y="322.03" font-size="9.4" text-anchor="end" font-weight="bold" >0.6</text>
<text x="39.90" y="294.70" font-size="9.4" text-anchor="end" font-weight="bold" >0.7</text>
<text x="39.90" y="267.37" font-size="9.4" text-anchor="end" font-weight="bold" >0.8</text>
<text x="39.90" y="240.03" font-size="9.4" text-anchor="end" font-weight="bold" >0.9</text>
<text x="39.90" y="212.70" font-size="9.4" text-anchor="end" font-weight="bold" >1.0</text>
<text x="64.50" y="389.40" font-size="9.5" text-anchor="end" font-weight="bold" >10</text>
<text x="64.40" y="383.50" font-size="5.6" text-anchor="start" font-weight="bold" >0</text>
<text x="114.50" y="389.40" font-size="9.5" text-anchor="end" font-weight="bold" >10</text>
<text x="114.40" y="383.50" font-size="5.6" text-anchor="start" font-weight="bold" >1</text>
<text x="164.50" y="389.40" font-size="9.5" text-anchor="end" font-weight="bold" >10</text>
<text x="164.40" y="383.50" font-size="5.6" text-anchor="start" font-weight="bold" >2</text>
<text x="214.50" y="389.40" font-size="9.5" text-anchor="end" font-weight="bold" >10</text>
<text x="214.40" y="383.50" font-size="5.6" text-anchor="start" font-weight="bold" >3</text>
<text x="264.50" y="389.40" font-size="9.5" text-anchor="end" font-weight="bold" >10</text>
<text x="264.40" y="383.50" font-size="5.6" text-anchor="start" font-weight="bold" >4</text>
<line x1="91.50" y1="288.90" x2="111.60" y2="288.90" stroke="#000" stroke-width="1.2" />
<rect x="99.70" y="286.60" width="4.6" height="4.6" fill="#000"/>
<text x="114.70" y="291.40" font-size="8.5" text-anchor="start" font-weight="bold" >PGM state</text>
<line x1="91.50" y1="299.00" x2="111.60" y2="299.00" stroke="#f00" stroke-width="1.4" />
<circle cx="102.00" cy="299.00" r="2.9" fill="#f00"/>
<text x="114.70" y="302.00" font-size="8.5" text-anchor="start" font-weight="bold" >ERS state</text>
<text x="6.50" y="403.00" font-size="15.6" text-anchor="start" font-weight="bold" >(c)</text>
<text x="129.90" y="402.30" font-size="11.3" text-anchor="start" font-weight="bold" >Time (sec)</text>
<text x="0.00" y="0.00" font-size="11.6" text-anchor="start" font-weight="bold" transform="translate(15.9,308.4) rotate(-90)"><tspan font-style="italic">V</tspan><tspan font-size="6.73" stroke-width="0" dy="5.10">th</tspan><tspan dy="-5.10">&#160;(V)</tspan></text>
<polyline points="335.80,349.43 374.04,341.18 412.28,347.94 450.52,337.38 488.76,328.97 527.00,244.82" fill="none" stroke="#000" stroke-width="1.2" stroke-linejoin="round" />
<rect x="333.50" y="347.13" width="4.6" height="4.6" fill="#000"/>
<rect x="371.74" y="338.88" width="4.6" height="4.6" fill="#000"/>
<rect x="409.98" y="345.64" width="4.6" height="4.6" fill="#000"/>
<rect x="448.22" y="335.08" width="4.6" height="4.6" fill="#000"/>
<rect x="486.46" y="326.67" width="4.6" height="4.6" fill="#000"/>
<rect x="524.70" y="242.52" width="4.6" height="4.6" fill="#000"/>
<polyline points="335.80,341.18 374.04,342.50 412.28,345.63 450.52,339.04 488.76,343.99 527.00,336.73" fill="none" stroke="#f00" stroke-width="1.4" stroke-linejoin="round" />
<circle cx="335.80" cy="341.18" r="2.8" fill="#f00"/>
<circle cx="374.04" cy="342.50" r="2.8" fill="#f00"/>
<circle cx="412.28" cy="345.63" r="2.8" fill="#f00"/>
<circle cx="450.52" cy="339.04" r="2.8" fill="#f00"/>
<circle cx="488.76" cy="343.99" r="2.8" fill="#f00"/>
<circle cx="527.00" cy="336.73" r="2.8" fill="#f00"/>
<rect x="321.00" y="210.50" width="224.70" height="165.00" fill="none" stroke="#000" stroke-width="1.2"/>
<line x1="324.29" y1="375.50" x2="324.29" y2="372.70" stroke="#000" stroke-width="1.2" />
<line x1="324.29" y1="210.50" x2="324.29" y2="213.30" stroke="#000" stroke-width="1.2" />
<line x1="327.32" y1="375.50" x2="327.32" y2="372.70" stroke="#000" stroke-width="1.2" />
<line x1="327.32" y1="210.50" x2="327.32" y2="213.30" stroke="#000" stroke-width="1.2" />
<line x1="329.88" y1="375.50" x2="329.88" y2="372.70" stroke="#000" stroke-width="1.2" />
<line x1="329.88" y1="210.50" x2="329.88" y2="213.30" stroke="#000" stroke-width="1.2" />
<line x1="332.09" y1="375.50" x2="332.09" y2="372.70" stroke="#000" stroke-width="1.2" />
<line x1="332.09" y1="210.50" x2="332.09" y2="213.30" stroke="#000" stroke-width="1.2" />
<line x1="334.05" y1="375.50" x2="334.05" y2="372.70" stroke="#000" stroke-width="1.2" />
<line x1="334.05" y1="210.50" x2="334.05" y2="213.30" stroke="#000" stroke-width="1.2" />
<line x1="335.80" y1="375.50" x2="335.80" y2="370.50" stroke="#000" stroke-width="1.2" />
<line x1="335.80" y1="210.50" x2="335.80" y2="215.50" stroke="#000" stroke-width="1.2" />
<line x1="347.31" y1="375.50" x2="347.31" y2="372.70" stroke="#000" stroke-width="1.2" />
<line x1="347.31" y1="210.50" x2="347.31" y2="213.30" stroke="#000" stroke-width="1.2" />
<line x1="354.05" y1="375.50" x2="354.05" y2="372.70" stroke="#000" stroke-width="1.2" />
<line x1="354.05" y1="210.50" x2="354.05" y2="213.30" stroke="#000" stroke-width="1.2" />
<line x1="358.82" y1="375.50" x2="358.82" y2="372.70" stroke="#000" stroke-width="1.2" />
<line x1="358.82" y1="210.50" x2="358.82" y2="213.30" stroke="#000" stroke-width="1.2" />
<line x1="362.53" y1="375.50" x2="362.53" y2="372.70" stroke="#000" stroke-width="1.2" />
<line x1="362.53" y1="210.50" x2="362.53" y2="213.30" stroke="#000" stroke-width="1.2" />
<line x1="365.56" y1="375.50" x2="365.56" y2="372.70" stroke="#000" stroke-width="1.2" />
<line x1="365.56" y1="210.50" x2="365.56" y2="213.30" stroke="#000" stroke-width="1.2" />
<line x1="368.12" y1="375.50" x2="368.12" y2="372.70" stroke="#000" stroke-width="1.2" />
<line x1="368.12" y1="210.50" x2="368.12" y2="213.30" stroke="#000" stroke-width="1.2" />
<line x1="370.33" y1="375.50" x2="370.33" y2="372.70" stroke="#000" stroke-width="1.2" />
<line x1="370.33" y1="210.50" x2="370.33" y2="213.30" stroke="#000" stroke-width="1.2" />
<line x1="372.29" y1="375.50" x2="372.29" y2="372.70" stroke="#000" stroke-width="1.2" />
<line x1="372.29" y1="210.50" x2="372.29" y2="213.30" stroke="#000" stroke-width="1.2" />
<line x1="374.04" y1="375.50" x2="374.04" y2="370.50" stroke="#000" stroke-width="1.2" />
<line x1="374.04" y1="210.50" x2="374.04" y2="215.50" stroke="#000" stroke-width="1.2" />
<line x1="385.55" y1="375.50" x2="385.55" y2="372.70" stroke="#000" stroke-width="1.2" />
<line x1="385.55" y1="210.50" x2="385.55" y2="213.30" stroke="#000" stroke-width="1.2" />
<line x1="392.29" y1="375.50" x2="392.29" y2="372.70" stroke="#000" stroke-width="1.2" />
<line x1="392.29" y1="210.50" x2="392.29" y2="213.30" stroke="#000" stroke-width="1.2" />
<line x1="397.06" y1="375.50" x2="397.06" y2="372.70" stroke="#000" stroke-width="1.2" />
<line x1="397.06" y1="210.50" x2="397.06" y2="213.30" stroke="#000" stroke-width="1.2" />
<line x1="400.77" y1="375.50" x2="400.77" y2="372.70" stroke="#000" stroke-width="1.2" />
<line x1="400.77" y1="210.50" x2="400.77" y2="213.30" stroke="#000" stroke-width="1.2" />
<line x1="403.80" y1="375.50" x2="403.80" y2="372.70" stroke="#000" stroke-width="1.2" />
<line x1="403.80" y1="210.50" x2="403.80" y2="213.30" stroke="#000" stroke-width="1.2" />
<line x1="406.36" y1="375.50" x2="406.36" y2="372.70" stroke="#000" stroke-width="1.2" />
<line x1="406.36" y1="210.50" x2="406.36" y2="213.30" stroke="#000" stroke-width="1.2" />
<line x1="408.57" y1="375.50" x2="408.57" y2="372.70" stroke="#000" stroke-width="1.2" />
<line x1="408.57" y1="210.50" x2="408.57" y2="213.30" stroke="#000" stroke-width="1.2" />
<line x1="410.53" y1="375.50" x2="410.53" y2="372.70" stroke="#000" stroke-width="1.2" />
<line x1="410.53" y1="210.50" x2="410.53" y2="213.30" stroke="#000" stroke-width="1.2" />
<line x1="412.28" y1="375.50" x2="412.28" y2="370.50" stroke="#000" stroke-width="1.2" />
<line x1="412.28" y1="210.50" x2="412.28" y2="215.50" stroke="#000" stroke-width="1.2" />
<line x1="423.79" y1="375.50" x2="423.79" y2="372.70" stroke="#000" stroke-width="1.2" />
<line x1="423.79" y1="210.50" x2="423.79" y2="213.30" stroke="#000" stroke-width="1.2" />
<line x1="430.53" y1="375.50" x2="430.53" y2="372.70" stroke="#000" stroke-width="1.2" />
<line x1="430.53" y1="210.50" x2="430.53" y2="213.30" stroke="#000" stroke-width="1.2" />
<line x1="435.30" y1="375.50" x2="435.30" y2="372.70" stroke="#000" stroke-width="1.2" />
<line x1="435.30" y1="210.50" x2="435.30" y2="213.30" stroke="#000" stroke-width="1.2" />
<line x1="439.01" y1="375.50" x2="439.01" y2="372.70" stroke="#000" stroke-width="1.2" />
<line x1="439.01" y1="210.50" x2="439.01" y2="213.30" stroke="#000" stroke-width="1.2" />
<line x1="442.04" y1="375.50" x2="442.04" y2="372.70" stroke="#000" stroke-width="1.2" />
<line x1="442.04" y1="210.50" x2="442.04" y2="213.30" stroke="#000" stroke-width="1.2" />
<line x1="444.60" y1="375.50" x2="444.60" y2="372.70" stroke="#000" stroke-width="1.2" />
<line x1="444.60" y1="210.50" x2="444.60" y2="213.30" stroke="#000" stroke-width="1.2" />
<line x1="446.81" y1="375.50" x2="446.81" y2="372.70" stroke="#000" stroke-width="1.2" />
<line x1="446.81" y1="210.50" x2="446.81" y2="213.30" stroke="#000" stroke-width="1.2" />
<line x1="448.77" y1="375.50" x2="448.77" y2="372.70" stroke="#000" stroke-width="1.2" />
<line x1="448.77" y1="210.50" x2="448.77" y2="213.30" stroke="#000" stroke-width="1.2" />
<line x1="450.52" y1="375.50" x2="450.52" y2="370.50" stroke="#000" stroke-width="1.2" />
<line x1="450.52" y1="210.50" x2="450.52" y2="215.50" stroke="#000" stroke-width="1.2" />
<line x1="462.03" y1="375.50" x2="462.03" y2="372.70" stroke="#000" stroke-width="1.2" />
<line x1="462.03" y1="210.50" x2="462.03" y2="213.30" stroke="#000" stroke-width="1.2" />
<line x1="468.77" y1="375.50" x2="468.77" y2="372.70" stroke="#000" stroke-width="1.2" />
<line x1="468.77" y1="210.50" x2="468.77" y2="213.30" stroke="#000" stroke-width="1.2" />
<line x1="473.54" y1="375.50" x2="473.54" y2="372.70" stroke="#000" stroke-width="1.2" />
<line x1="473.54" y1="210.50" x2="473.54" y2="213.30" stroke="#000" stroke-width="1.2" />
<line x1="477.25" y1="375.50" x2="477.25" y2="372.70" stroke="#000" stroke-width="1.2" />
<line x1="477.25" y1="210.50" x2="477.25" y2="213.30" stroke="#000" stroke-width="1.2" />
<line x1="480.28" y1="375.50" x2="480.28" y2="372.70" stroke="#000" stroke-width="1.2" />
<line x1="480.28" y1="210.50" x2="480.28" y2="213.30" stroke="#000" stroke-width="1.2" />
<line x1="482.84" y1="375.50" x2="482.84" y2="372.70" stroke="#000" stroke-width="1.2" />
<line x1="482.84" y1="210.50" x2="482.84" y2="213.30" stroke="#000" stroke-width="1.2" />
<line x1="485.05" y1="375.50" x2="485.05" y2="372.70" stroke="#000" stroke-width="1.2" />
<line x1="485.05" y1="210.50" x2="485.05" y2="213.30" stroke="#000" stroke-width="1.2" />
<line x1="487.01" y1="375.50" x2="487.01" y2="372.70" stroke="#000" stroke-width="1.2" />
<line x1="487.01" y1="210.50" x2="487.01" y2="213.30" stroke="#000" stroke-width="1.2" />
<line x1="488.76" y1="375.50" x2="488.76" y2="370.50" stroke="#000" stroke-width="1.2" />
<line x1="488.76" y1="210.50" x2="488.76" y2="215.50" stroke="#000" stroke-width="1.2" />
<line x1="500.27" y1="375.50" x2="500.27" y2="372.70" stroke="#000" stroke-width="1.2" />
<line x1="500.27" y1="210.50" x2="500.27" y2="213.30" stroke="#000" stroke-width="1.2" />
<line x1="507.01" y1="375.50" x2="507.01" y2="372.70" stroke="#000" stroke-width="1.2" />
<line x1="507.01" y1="210.50" x2="507.01" y2="213.30" stroke="#000" stroke-width="1.2" />
<line x1="511.78" y1="375.50" x2="511.78" y2="372.70" stroke="#000" stroke-width="1.2" />
<line x1="511.78" y1="210.50" x2="511.78" y2="213.30" stroke="#000" stroke-width="1.2" />
<line x1="515.49" y1="375.50" x2="515.49" y2="372.70" stroke="#000" stroke-width="1.2" />
<line x1="515.49" y1="210.50" x2="515.49" y2="213.30" stroke="#000" stroke-width="1.2" />
<line x1="518.52" y1="375.50" x2="518.52" y2="372.70" stroke="#000" stroke-width="1.2" />
<line x1="518.52" y1="210.50" x2="518.52" y2="213.30" stroke="#000" stroke-width="1.2" />
<line x1="521.08" y1="375.50" x2="521.08" y2="372.70" stroke="#000" stroke-width="1.2" />
<line x1="521.08" y1="210.50" x2="521.08" y2="213.30" stroke="#000" stroke-width="1.2" />
<line x1="523.29" y1="375.50" x2="523.29" y2="372.70" stroke="#000" stroke-width="1.2" />
<line x1="523.29" y1="210.50" x2="523.29" y2="213.30" stroke="#000" stroke-width="1.2" />
<line x1="525.25" y1="375.50" x2="525.25" y2="372.70" stroke="#000" stroke-width="1.2" />
<line x1="525.25" y1="210.50" x2="525.25" y2="213.30" stroke="#000" stroke-width="1.2" />
<line x1="527.00" y1="375.50" x2="527.00" y2="370.50" stroke="#000" stroke-width="1.2" />
<line x1="527.00" y1="210.50" x2="527.00" y2="215.50" stroke="#000" stroke-width="1.2" />
<line x1="538.51" y1="375.50" x2="538.51" y2="372.70" stroke="#000" stroke-width="1.2" />
<line x1="538.51" y1="210.50" x2="538.51" y2="213.30" stroke="#000" stroke-width="1.2" />
<line x1="321.00" y1="375.50" x2="326.00" y2="375.50" stroke="#000" stroke-width="1.2" />
<line x1="545.70" y1="375.50" x2="540.70" y2="375.50" stroke="#000" stroke-width="1.2" />
<line x1="321.00" y1="359.00" x2="323.80" y2="359.00" stroke="#000" stroke-width="1.2" />
<line x1="545.70" y1="359.00" x2="542.90" y2="359.00" stroke="#000" stroke-width="1.2" />
<line x1="321.00" y1="342.50" x2="326.00" y2="342.50" stroke="#000" stroke-width="1.2" />
<line x1="545.70" y1="342.50" x2="540.70" y2="342.50" stroke="#000" stroke-width="1.2" />
<line x1="321.00" y1="326.00" x2="323.80" y2="326.00" stroke="#000" stroke-width="1.2" />
<line x1="545.70" y1="326.00" x2="542.90" y2="326.00" stroke="#000" stroke-width="1.2" />
<line x1="321.00" y1="309.50" x2="326.00" y2="309.50" stroke="#000" stroke-width="1.2" />
<line x1="545.70" y1="309.50" x2="540.70" y2="309.50" stroke="#000" stroke-width="1.2" />
<line x1="321.00" y1="293.00" x2="323.80" y2="293.00" stroke="#000" stroke-width="1.2" />
<line x1="545.70" y1="293.00" x2="542.90" y2="293.00" stroke="#000" stroke-width="1.2" />
<line x1="321.00" y1="276.50" x2="326.00" y2="276.50" stroke="#000" stroke-width="1.2" />
<line x1="545.70" y1="276.50" x2="540.70" y2="276.50" stroke="#000" stroke-width="1.2" />
<line x1="321.00" y1="260.00" x2="323.80" y2="260.00" stroke="#000" stroke-width="1.2" />
<line x1="545.70" y1="260.00" x2="542.90" y2="260.00" stroke="#000" stroke-width="1.2" />
<line x1="321.00" y1="243.50" x2="326.00" y2="243.50" stroke="#000" stroke-width="1.2" />
<line x1="545.70" y1="243.50" x2="540.70" y2="243.50" stroke="#000" stroke-width="1.2" />
<line x1="321.00" y1="227.00" x2="323.80" y2="227.00" stroke="#000" stroke-width="1.2" />
<line x1="545.70" y1="227.00" x2="542.90" y2="227.00" stroke="#000" stroke-width="1.2" />
<line x1="321.00" y1="210.50" x2="326.00" y2="210.50" stroke="#000" stroke-width="1.2" />
<line x1="545.70" y1="210.50" x2="540.70" y2="210.50" stroke="#000" stroke-width="1.2" />
<text x="314.40" y="377.80" font-size="9.4" text-anchor="end" font-weight="bold" >80</text>
<text x="314.40" y="344.80" font-size="9.4" text-anchor="end" font-weight="bold" >100</text>
<text x="314.40" y="311.80" font-size="9.4" text-anchor="end" font-weight="bold" >120</text>
<text x="314.40" y="278.80" font-size="9.4" text-anchor="end" font-weight="bold" >140</text>
<text x="314.40" y="245.80" font-size="9.4" text-anchor="end" font-weight="bold" >160</text>
<text x="314.40" y="212.80" font-size="9.4" text-anchor="end" font-weight="bold" >180</text>
<text x="339.70" y="391.00" font-size="9.5" text-anchor="end" font-weight="bold" >10</text>
<text x="340.00" y="385.50" font-size="5.6" text-anchor="start" font-weight="bold" >0</text>
<text x="377.94" y="391.00" font-size="9.5" text-anchor="end" font-weight="bold" >10</text>
<text x="378.24" y="385.50" font-size="5.6" text-anchor="start" font-weight="bold" >1</text>
<text x="416.18" y="391.00" font-size="9.5" text-anchor="end" font-weight="bold" >10</text>
<text x="416.48" y="385.50" font-size="5.6" text-anchor="start" font-weight="bold" >2</text>
<text x="454.42" y="391.00" font-size="9.5" text-anchor="end" font-weight="bold" >10</text>
<text x="454.72" y="385.50" font-size="5.6" text-anchor="start" font-weight="bold" >3</text>
<text x="492.66" y="391.00" font-size="9.5" text-anchor="end" font-weight="bold" >10</text>
<text x="492.96" y="385.50" font-size="5.6" text-anchor="start" font-weight="bold" >4</text>
<text x="530.90" y="391.00" font-size="9.5" text-anchor="end" font-weight="bold" >10</text>
<text x="531.20" y="385.50" font-size="5.6" text-anchor="start" font-weight="bold" >5</text>
<line x1="336.00" y1="232.00" x2="360.00" y2="232.00" stroke="#000" stroke-width="1.2" />
<rect x="345.70" y="229.70" width="4.6" height="4.6" fill="#000"/>
<text x="362.40" y="235.70" font-size="10.3" text-anchor="start" font-weight="bold" >G2 sweep</text>
<line x1="336.00" y1="245.00" x2="360.00" y2="245.00" stroke="#f00" stroke-width="1.4" />
<circle cx="348.00" cy="245.00" r="2.9" fill="#f00"/>
<text x="362.40" y="248.00" font-size="10.3" text-anchor="start" font-weight="bold" >G1 sweep</text>
<text x="337.00" y="260.80" font-size="10.0" text-anchor="start" font-weight="bold" ><tspan font-style="italic">V</tspan><tspan font-size="6.20" stroke-width="0" dy="4.40">PGM</tspan><tspan dy="-4.40">&#160;=&#160;7&#160;V</tspan></text>
<text x="337.00" y="277.60" font-size="10.0" text-anchor="start" font-weight="bold" ><tspan font-style="italic">V</tspan><tspan font-size="6.20" stroke-width="0" dy="4.40">ERS</tspan><tspan dy="-4.40">&#160;=&#160;-7.5&#160;V</tspan></text>
<text x="337.00" y="294.50" font-size="10.0" text-anchor="start" font-weight="bold" ><tspan font-style="italic">t</tspan><tspan font-size="6.20" stroke-width="0" dy="4.40">PGM</tspan><tspan dy="-4.40">&#160;=&#160;100&#160;µs</tspan></text>
<text x="337.00" y="311.20" font-size="10.0" text-anchor="start" font-weight="bold" ><tspan font-style="italic">t</tspan><tspan font-size="6.20" stroke-width="0" dy="4.40">ERS</tspan><tspan dy="-4.40">&#160;=&#160;100&#160;µs</tspan></text>
<text x="284.50" y="403.00" font-size="15.6" text-anchor="start" font-weight="bold" >(d)</text>
<text x="394.80" y="407.50" font-size="11.5" text-anchor="start" font-weight="bold" ># of P/E Cycle</text>
<text x="0.00" y="0.00" font-size="11.8" text-anchor="start" font-weight="bold" transform="translate(292.4,334.8) rotate(-90)"><tspan font-style="italic">SS</tspan><tspan>&#160;(mV/dec)</tspan></text>
</svg></body></html>
